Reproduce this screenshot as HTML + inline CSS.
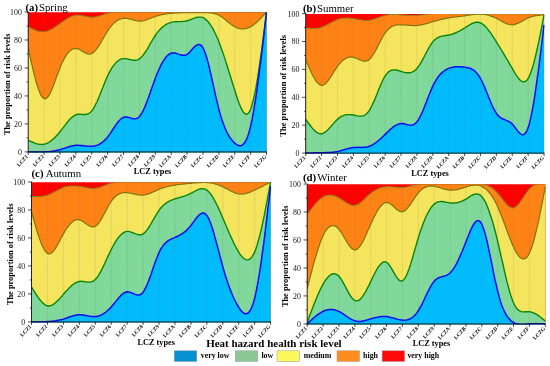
<!DOCTYPE html>
<html><head><meta charset="utf-8"><title>Heat hazard health risk level</title>
<style>
html,body{margin:0;padding:0;background:#fff;}
body{width:550px;height:366px;overflow:hidden;}
svg{display:block;font-family:"Liberation Serif","Times New Roman",serif;}
.b{font-weight:bold;}
</style></head><body>
<svg width="550" height="366" viewBox="0 0 550 366">
<rect x="0" y="0" width="550" height="366" fill="#ffffff"/>

<g id="panel-a">
<clipPath id="clipf-a"><rect x="28.20" y="12.35" width="238.35" height="140.05"/></clipPath>
<clipPath id="clip-a"><rect x="28.20" y="12.35" width="238.95" height="140.05"/></clipPath>
<g clip-path="url(#clipf-a)">
<rect x="27.20" y="11.00" width="240.35" height="142.90" fill="#ff0000"/>
<path d="M27.2,26.7 L28.2,26.7 L29.5,27.4 L30.8,28.1 L32.2,28.7 L33.5,29.3 L34.8,29.9 L36.1,30.4 L37.5,30.9 L38.8,31.3 L40.1,31.5 L41.4,31.7 L42.8,31.8 L44.1,31.7 L45.4,31.5 L46.7,31.2 L48.1,30.8 L49.4,30.3 L50.7,29.6 L52.0,28.9 L53.4,28.1 L54.7,27.3 L56.0,26.4 L57.3,25.5 L58.7,24.6 L60.0,23.6 L61.3,22.6 L62.6,21.7 L64.0,20.8 L65.3,19.9 L66.6,19.0 L67.9,18.2 L69.2,17.5 L70.6,16.8 L71.9,16.2 L73.2,15.8 L74.5,15.4 L75.9,15.2 L77.2,15.1 L78.5,15.2 L79.8,15.3 L81.2,15.5 L82.5,15.7 L83.8,16.0 L85.1,16.3 L86.5,16.6 L87.8,16.9 L89.1,17.1 L90.4,17.3 L91.8,17.3 L93.1,17.3 L94.4,17.1 L95.7,16.9 L97.1,16.6 L98.4,16.2 L99.7,15.8 L101.0,15.4 L102.4,14.9 L103.7,14.5 L105.0,14.0 L106.3,13.6 L107.7,13.3 L109.0,13.0 L110.3,12.7 L111.6,12.5 L112.9,12.3 L114.3,12.2 L115.6,12.1 L116.9,12.1 L118.2,12.0 L119.6,12.0 L120.9,12.0 L122.2,12.0 L123.5,12.0 L124.9,12.0 L126.2,12.0 L127.5,12.0 L128.8,12.0 L130.2,12.0 L131.5,12.0 L132.8,12.0 L134.1,12.0 L135.5,12.0 L136.8,12.0 L138.1,12.0 L139.4,12.0 L140.8,12.0 L142.1,12.0 L143.4,12.0 L144.7,12.0 L146.1,12.0 L147.4,12.0 L148.7,12.0 L150.0,12.0 L151.3,12.0 L152.7,12.0 L154.0,12.0 L155.3,12.0 L156.6,12.0 L158.0,12.0 L159.3,12.0 L160.6,12.0 L161.9,12.0 L163.3,12.0 L164.6,12.0 L165.9,12.0 L167.2,12.0 L168.6,12.0 L169.9,12.0 L171.2,12.0 L172.5,12.0 L173.9,12.0 L175.2,12.0 L176.5,12.0 L177.8,12.0 L179.2,12.0 L180.5,12.0 L181.8,12.0 L183.1,12.0 L184.5,12.0 L185.8,12.0 L187.1,12.0 L188.4,12.0 L189.7,12.0 L191.1,12.0 L192.4,12.0 L193.7,12.0 L195.0,12.0 L196.4,12.0 L197.7,12.0 L199.0,12.0 L200.3,12.0 L201.7,12.0 L203.0,12.0 L204.3,12.0 L205.6,12.0 L207.0,12.0 L208.3,12.0 L209.6,12.0 L210.9,12.0 L212.3,12.0 L213.6,12.0 L214.9,12.0 L216.2,12.0 L217.6,12.0 L218.9,12.0 L220.2,12.0 L221.5,12.0 L222.9,12.0 L224.2,12.0 L225.5,12.0 L226.8,12.0 L228.1,12.0 L229.5,12.0 L230.8,12.0 L232.1,12.0 L233.4,12.0 L234.8,12.0 L236.1,12.0 L237.4,12.0 L238.7,12.0 L240.1,12.0 L241.4,12.0 L242.7,12.0 L244.0,12.0 L245.4,12.0 L246.7,12.0 L248.0,12.0 L249.3,12.0 L250.7,12.0 L252.0,12.0 L253.3,12.0 L254.6,12.0 L256.0,12.0 L257.3,12.0 L258.6,12.0 L259.9,12.0 L261.3,12.0 L262.6,12.0 L263.9,12.0 L265.2,12.0 L266.6,12.0 L267.6,12.0 L267.6,153.9 L27.2,153.9 Z" fill="#ff8214" stroke="none"/>
<path d="M27.2,48.1 L28.2,48.1 L29.5,54.1 L30.8,60.1 L32.2,65.9 L33.5,71.5 L34.8,76.8 L36.1,81.7 L37.5,86.2 L38.8,90.1 L40.1,93.3 L41.4,95.9 L42.8,97.8 L44.1,98.7 L45.4,98.8 L46.7,98.1 L48.1,96.6 L49.4,94.6 L50.7,92.0 L52.0,89.0 L53.4,85.6 L54.7,82.1 L56.0,78.4 L57.3,74.7 L58.7,71.1 L60.0,67.7 L61.3,64.5 L62.6,61.7 L64.0,59.1 L65.3,56.8 L66.6,54.7 L67.9,53.0 L69.2,51.6 L70.6,50.4 L71.9,49.5 L73.2,48.9 L74.5,48.6 L75.9,48.5 L77.2,48.7 L78.5,49.2 L79.8,49.8 L81.2,50.5 L82.5,51.3 L83.8,52.1 L85.1,52.8 L86.5,53.4 L87.8,53.9 L89.1,54.1 L90.4,54.0 L91.8,53.6 L93.1,52.7 L94.4,51.6 L95.7,50.1 L97.1,48.4 L98.4,46.4 L99.7,44.3 L101.0,42.1 L102.4,39.8 L103.7,37.5 L105.0,35.2 L106.3,33.0 L107.7,30.9 L109.0,29.0 L110.3,27.2 L111.6,25.6 L112.9,24.1 L114.3,22.9 L115.6,21.7 L116.9,20.8 L118.2,20.0 L119.6,19.3 L120.9,18.8 L122.2,18.5 L123.5,18.3 L124.9,18.3 L126.2,18.3 L127.5,18.5 L128.8,18.8 L130.2,19.1 L131.5,19.5 L132.8,19.8 L134.1,20.2 L135.5,20.5 L136.8,20.8 L138.1,21.0 L139.4,21.1 L140.8,21.1 L142.1,20.9 L143.4,20.7 L144.7,20.4 L146.1,20.0 L147.4,19.5 L148.7,19.0 L150.0,18.5 L151.3,18.0 L152.7,17.5 L154.0,17.0 L155.3,16.5 L156.6,16.0 L158.0,15.6 L159.3,15.3 L160.6,14.9 L161.9,14.6 L163.3,14.3 L164.6,14.1 L165.9,13.9 L167.2,13.7 L168.6,13.5 L169.9,13.4 L171.2,13.3 L172.5,13.1 L173.9,13.1 L175.2,13.0 L176.5,12.9 L177.8,12.8 L179.2,12.8 L180.5,12.8 L181.8,12.7 L183.1,12.7 L184.5,12.7 L185.8,12.7 L187.1,12.7 L188.4,12.7 L189.7,12.7 L191.1,12.7 L192.4,12.7 L193.7,12.7 L195.0,12.7 L196.4,12.7 L197.7,12.7 L199.0,12.7 L200.3,12.7 L201.7,12.7 L203.0,12.7 L204.3,12.7 L205.6,12.7 L207.0,12.7 L208.3,12.7 L209.6,12.8 L210.9,12.9 L212.3,13.1 L213.6,13.3 L214.9,13.6 L216.2,14.1 L217.6,14.6 L218.9,15.2 L220.2,16.0 L221.5,16.8 L222.9,17.8 L224.2,18.8 L225.5,19.8 L226.8,20.9 L228.1,22.0 L229.5,23.0 L230.8,24.1 L232.1,25.0 L233.4,25.9 L234.8,26.7 L236.1,27.4 L237.4,27.9 L238.7,28.3 L240.1,28.6 L241.4,28.8 L242.7,28.9 L244.0,28.8 L245.4,28.6 L246.7,28.3 L248.0,27.9 L249.3,27.4 L250.7,26.7 L252.0,25.9 L253.3,25.0 L254.6,24.0 L256.0,22.9 L257.3,21.7 L258.6,20.5 L259.9,19.1 L261.3,17.8 L262.6,16.4 L263.9,14.9 L265.2,13.5 L266.6,12.0 L267.6,12.0 L267.6,153.9 L27.2,153.9 Z" fill="#f4e45e" stroke="none"/>
<path d="M27.2,140.1 L28.2,140.1 L29.5,140.8 L30.8,141.4 L32.2,142.0 L33.5,142.6 L34.8,143.1 L36.1,143.6 L37.5,143.9 L38.8,144.2 L40.1,144.4 L41.4,144.5 L42.8,144.4 L44.1,144.2 L45.4,143.9 L46.7,143.4 L48.1,142.7 L49.4,142.0 L50.7,141.1 L52.0,140.0 L53.4,138.9 L54.7,137.7 L56.0,136.3 L57.3,134.9 L58.7,133.4 L60.0,131.8 L61.3,130.1 L62.6,128.4 L64.0,126.6 L65.3,124.9 L66.6,123.2 L67.9,121.6 L69.2,120.0 L70.6,118.6 L71.9,117.4 L73.2,116.3 L74.5,115.4 L75.9,114.8 L77.2,114.5 L78.5,114.3 L79.8,114.3 L81.2,114.4 L82.5,114.5 L83.8,114.5 L85.1,114.5 L86.5,114.3 L87.8,114.0 L89.1,113.3 L90.4,112.3 L91.8,110.9 L93.1,109.1 L94.4,106.9 L95.7,104.3 L97.1,101.5 L98.4,98.4 L99.7,95.2 L101.0,91.9 L102.4,88.5 L103.7,85.2 L105.0,81.9 L106.3,78.7 L107.7,75.8 L109.0,73.1 L110.3,70.6 L111.6,68.4 L112.9,66.4 L114.3,64.6 L115.6,63.1 L116.9,61.8 L118.2,60.7 L119.6,59.9 L120.9,59.2 L122.2,58.8 L123.5,58.6 L124.9,58.6 L126.2,58.7 L127.5,58.9 L128.8,59.3 L130.2,59.6 L131.5,59.9 L132.8,60.2 L134.1,60.3 L135.5,60.3 L136.8,60.1 L138.1,59.6 L139.4,58.9 L140.8,57.8 L142.1,56.4 L143.4,54.8 L144.7,52.9 L146.1,50.9 L147.4,48.8 L148.7,46.5 L150.0,44.2 L151.3,42.0 L152.7,39.7 L154.0,37.5 L155.3,35.5 L156.6,33.6 L158.0,31.9 L159.3,30.3 L160.6,28.9 L161.9,27.6 L163.3,26.5 L164.6,25.5 L165.9,24.6 L167.2,23.9 L168.6,23.3 L169.9,22.7 L171.2,22.4 L172.5,22.1 L173.9,21.9 L175.2,21.7 L176.5,21.7 L177.8,21.6 L179.2,21.6 L180.5,21.6 L181.8,21.5 L183.1,21.4 L184.5,21.3 L185.8,21.1 L187.1,20.8 L188.4,20.4 L189.7,20.0 L191.1,19.4 L192.4,18.9 L193.7,18.4 L195.0,17.9 L196.4,17.5 L197.7,17.2 L199.0,17.1 L200.3,17.1 L201.7,17.3 L203.0,17.7 L204.3,18.4 L205.6,19.4 L207.0,20.6 L208.3,22.0 L209.6,23.7 L210.9,25.6 L212.3,27.7 L213.6,30.1 L214.9,32.7 L216.2,35.5 L217.6,38.6 L218.9,41.8 L220.2,45.2 L221.5,48.9 L222.9,52.7 L224.2,56.6 L225.5,60.6 L226.8,64.8 L228.1,69.0 L229.5,73.2 L230.8,77.5 L232.1,81.8 L233.4,86.1 L234.8,90.3 L236.1,94.5 L237.4,98.5 L238.7,102.3 L240.1,105.7 L241.4,108.7 L242.7,111.1 L244.0,112.9 L245.4,114.0 L246.7,114.3 L248.0,113.6 L249.3,112.0 L250.7,109.2 L252.0,105.3 L253.3,100.3 L254.6,94.3 L256.0,87.4 L257.3,79.7 L258.6,71.4 L259.9,62.4 L261.3,52.9 L262.6,43.0 L263.9,32.8 L265.2,22.5 L266.6,12.0 L267.6,12.0 L267.6,153.9 L27.2,153.9 Z" fill="#80d89a" stroke="none"/>
<path d="M27.2,151.9 L28.2,151.9 L29.5,151.9 L30.8,152.0 L32.2,152.0 L33.5,152.0 L34.8,152.0 L36.1,152.0 L37.5,152.0 L38.8,152.0 L40.1,152.0 L41.4,152.0 L42.8,151.9 L44.1,151.9 L45.4,151.8 L46.7,151.8 L48.1,151.7 L49.4,151.6 L50.7,151.4 L52.0,151.3 L53.4,151.1 L54.7,150.9 L56.0,150.6 L57.3,150.3 L58.7,150.0 L60.0,149.7 L61.3,149.3 L62.6,148.8 L64.0,148.4 L65.3,148.0 L66.6,147.5 L67.9,147.1 L69.2,146.7 L70.6,146.3 L71.9,146.0 L73.2,145.7 L74.5,145.5 L75.9,145.3 L77.2,145.3 L78.5,145.3 L79.8,145.4 L81.2,145.5 L82.5,145.6 L83.8,145.8 L85.1,146.0 L86.5,146.1 L87.8,146.2 L89.1,146.3 L90.4,146.3 L91.8,146.3 L93.1,146.2 L94.4,146.0 L95.7,145.6 L97.1,145.2 L98.4,144.7 L99.7,144.0 L101.0,143.2 L102.4,142.2 L103.7,141.2 L105.0,139.9 L106.3,138.5 L107.7,136.9 L109.0,135.2 L110.3,133.3 L111.6,131.3 L112.9,129.3 L114.3,127.3 L115.6,125.4 L116.9,123.5 L118.2,121.8 L119.6,120.3 L120.9,119.0 L122.2,118.0 L123.5,117.3 L124.9,117.0 L126.2,117.0 L127.5,117.2 L128.8,117.5 L130.2,117.9 L131.5,118.3 L132.8,118.7 L134.1,118.8 L135.5,118.8 L136.8,118.4 L138.1,117.7 L139.4,116.5 L140.8,114.8 L142.1,112.6 L143.4,110.1 L144.7,107.2 L146.1,103.9 L147.4,100.5 L148.7,96.9 L150.0,93.2 L151.3,89.4 L152.7,85.6 L154.0,81.9 L155.3,78.3 L156.6,74.9 L158.0,71.7 L159.3,68.7 L160.6,65.9 L161.9,63.4 L163.3,61.1 L164.6,59.1 L165.9,57.3 L167.2,55.8 L168.6,54.6 L169.9,53.7 L171.2,53.1 L172.5,52.9 L173.9,52.9 L175.2,53.1 L176.5,53.4 L177.8,53.9 L179.2,54.4 L180.5,54.8 L181.8,55.2 L183.1,55.3 L184.5,55.3 L185.8,55.0 L187.1,54.4 L188.4,53.4 L189.7,52.1 L191.1,50.6 L192.4,49.1 L193.7,47.6 L195.0,46.3 L196.4,45.3 L197.7,44.6 L199.0,44.4 L200.3,44.8 L201.7,45.9 L203.0,47.8 L204.3,50.6 L205.6,54.2 L207.0,58.6 L208.3,63.4 L209.6,68.8 L210.9,74.5 L212.3,80.4 L213.6,86.4 L214.9,92.4 L216.2,98.3 L217.6,103.9 L218.9,109.2 L220.2,114.1 L221.5,118.4 L222.9,122.4 L224.2,126.0 L225.5,129.1 L226.8,132.0 L228.1,134.5 L229.5,136.7 L230.8,138.6 L232.1,140.3 L233.4,141.8 L234.8,143.1 L236.1,144.2 L237.4,145.0 L238.7,145.6 L240.1,145.8 L241.4,145.5 L242.7,144.8 L244.0,143.5 L245.4,141.5 L246.7,138.9 L248.0,135.4 L249.3,131.2 L250.7,126.0 L252.0,119.9 L253.3,112.9 L254.6,105.1 L256.0,96.6 L257.3,87.4 L258.6,77.7 L259.9,67.5 L261.3,56.9 L262.6,45.9 L263.9,34.8 L265.2,23.4 L266.6,12.0 L267.6,12.0 L267.6,153.9 L27.2,153.9 Z" fill="#00bcff" stroke="none"/>
</g>
<g clip-path="url(#clip-a)">
<line x1="28.20" y1="12.00" x2="28.20" y2="151.90" stroke="#70704c" stroke-opacity="0.5" stroke-width="0.55" stroke-dasharray="0.9,1.0"/>
<line x1="44.09" y1="12.00" x2="44.09" y2="151.90" stroke="#70704c" stroke-opacity="0.5" stroke-width="0.55" stroke-dasharray="0.9,1.0"/>
<line x1="59.98" y1="12.00" x2="59.98" y2="151.90" stroke="#70704c" stroke-opacity="0.5" stroke-width="0.55" stroke-dasharray="0.9,1.0"/>
<line x1="75.87" y1="12.00" x2="75.87" y2="151.90" stroke="#70704c" stroke-opacity="0.5" stroke-width="0.55" stroke-dasharray="0.9,1.0"/>
<line x1="91.76" y1="12.00" x2="91.76" y2="151.90" stroke="#70704c" stroke-opacity="0.5" stroke-width="0.55" stroke-dasharray="0.9,1.0"/>
<line x1="107.65" y1="12.00" x2="107.65" y2="151.90" stroke="#70704c" stroke-opacity="0.5" stroke-width="0.55" stroke-dasharray="0.9,1.0"/>
<line x1="123.54" y1="12.00" x2="123.54" y2="151.90" stroke="#70704c" stroke-opacity="0.5" stroke-width="0.55" stroke-dasharray="0.9,1.0"/>
<line x1="139.43" y1="12.00" x2="139.43" y2="151.90" stroke="#70704c" stroke-opacity="0.5" stroke-width="0.55" stroke-dasharray="0.9,1.0"/>
<line x1="155.32" y1="12.00" x2="155.32" y2="151.90" stroke="#70704c" stroke-opacity="0.5" stroke-width="0.55" stroke-dasharray="0.9,1.0"/>
<line x1="171.21" y1="12.00" x2="171.21" y2="151.90" stroke="#70704c" stroke-opacity="0.5" stroke-width="0.55" stroke-dasharray="0.9,1.0"/>
<line x1="187.10" y1="12.00" x2="187.10" y2="151.90" stroke="#70704c" stroke-opacity="0.5" stroke-width="0.55" stroke-dasharray="0.9,1.0"/>
<line x1="202.99" y1="12.00" x2="202.99" y2="151.90" stroke="#70704c" stroke-opacity="0.5" stroke-width="0.55" stroke-dasharray="0.9,1.0"/>
<line x1="218.88" y1="12.00" x2="218.88" y2="151.90" stroke="#70704c" stroke-opacity="0.5" stroke-width="0.55" stroke-dasharray="0.9,1.0"/>
<line x1="234.77" y1="12.00" x2="234.77" y2="151.90" stroke="#70704c" stroke-opacity="0.5" stroke-width="0.55" stroke-dasharray="0.9,1.0"/>
<line x1="250.66" y1="12.00" x2="250.66" y2="151.90" stroke="#70704c" stroke-opacity="0.5" stroke-width="0.55" stroke-dasharray="0.9,1.0"/>
<line x1="266.55" y1="12.00" x2="266.55" y2="151.90" stroke="#70704c" stroke-opacity="0.5" stroke-width="0.55" stroke-dasharray="0.9,1.0"/>
<path d="M28.2,26.7 L29.5,27.4 L30.8,28.1 L32.2,28.7 L33.5,29.3 L34.8,29.9 L36.1,30.4 L37.5,30.9 L38.8,31.3 L40.1,31.5 L41.4,31.7 L42.8,31.8 L44.1,31.7 L45.4,31.5 L46.7,31.2 L48.1,30.8 L49.4,30.3 L50.7,29.6 L52.0,28.9 L53.4,28.1 L54.7,27.3 L56.0,26.4 L57.3,25.5 L58.7,24.6 L60.0,23.6 L61.3,22.6 L62.6,21.7 L64.0,20.8 L65.3,19.9 L66.6,19.0 L67.9,18.2 L69.2,17.5 L70.6,16.8 L71.9,16.2 L73.2,15.8 L74.5,15.4 L75.9,15.2 L77.2,15.1 L78.5,15.2 L79.8,15.3 L81.2,15.5 L82.5,15.7 L83.8,16.0 L85.1,16.3 L86.5,16.6 L87.8,16.9 L89.1,17.1 L90.4,17.3 L91.8,17.3 L93.1,17.3 L94.4,17.1 L95.7,16.9 L97.1,16.6 L98.4,16.2 L99.7,15.8 L101.0,15.4 L102.4,14.9 L103.7,14.5 L105.0,14.0 L106.3,13.6 L107.7,13.3 L109.0,13.0 L110.3,12.7 L111.6,12.5 L112.9,12.3 L114.3,12.2 L115.6,12.1 L116.9,12.1 L118.2,12.0 L119.6,12.0 L120.9,12.0 L122.2,12.0 L123.5,12.0 L124.9,12.0 L126.2,12.0 L127.5,12.0 L128.8,12.0 L130.2,12.0 L131.5,12.0 L132.8,12.0 L134.1,12.0 L135.5,12.0 L136.8,12.0 L138.1,12.0 L139.4,12.0 L140.8,12.0 L142.1,12.0 L143.4,12.0 L144.7,12.0 L146.1,12.0 L147.4,12.0 L148.7,12.0 L150.0,12.0 L151.3,12.0 L152.7,12.0 L154.0,12.0 L155.3,12.0 L156.6,12.0 L158.0,12.0 L159.3,12.0 L160.6,12.0 L161.9,12.0 L163.3,12.0 L164.6,12.0 L165.9,12.0 L167.2,12.0 L168.6,12.0 L169.9,12.0 L171.2,12.0 L172.5,12.0 L173.9,12.0 L175.2,12.0 L176.5,12.0 L177.8,12.0 L179.2,12.0 L180.5,12.0 L181.8,12.0 L183.1,12.0 L184.5,12.0 L185.8,12.0 L187.1,12.0 L188.4,12.0 L189.7,12.0 L191.1,12.0 L192.4,12.0 L193.7,12.0 L195.0,12.0 L196.4,12.0 L197.7,12.0 L199.0,12.0 L200.3,12.0 L201.7,12.0 L203.0,12.0 L204.3,12.0 L205.6,12.0 L207.0,12.0 L208.3,12.0 L209.6,12.0 L210.9,12.0 L212.3,12.0 L213.6,12.0 L214.9,12.0 L216.2,12.0 L217.6,12.0 L218.9,12.0 L220.2,12.0 L221.5,12.0 L222.9,12.0 L224.2,12.0 L225.5,12.0 L226.8,12.0 L228.1,12.0 L229.5,12.0 L230.8,12.0 L232.1,12.0 L233.4,12.0 L234.8,12.0 L236.1,12.0 L237.4,12.0 L238.7,12.0 L240.1,12.0 L241.4,12.0 L242.7,12.0 L244.0,12.0 L245.4,12.0 L246.7,12.0 L248.0,12.0 L249.3,12.0 L250.7,12.0 L252.0,12.0 L253.3,12.0 L254.6,12.0 L256.0,12.0 L257.3,12.0 L258.6,12.0 L259.9,12.0 L261.3,12.0 L262.6,12.0 L263.9,12.0 L265.2,12.0 L266.6,12.0" fill="none" stroke="#94801a" stroke-width="1.05" stroke-linejoin="round"/>
<path d="M28.2,48.1 L29.5,54.1 L30.8,60.1 L32.2,65.9 L33.5,71.5 L34.8,76.8 L36.1,81.7 L37.5,86.2 L38.8,90.1 L40.1,93.3 L41.4,95.9 L42.8,97.8 L44.1,98.7 L45.4,98.8 L46.7,98.1 L48.1,96.6 L49.4,94.6 L50.7,92.0 L52.0,89.0 L53.4,85.6 L54.7,82.1 L56.0,78.4 L57.3,74.7 L58.7,71.1 L60.0,67.7 L61.3,64.5 L62.6,61.7 L64.0,59.1 L65.3,56.8 L66.6,54.7 L67.9,53.0 L69.2,51.6 L70.6,50.4 L71.9,49.5 L73.2,48.9 L74.5,48.6 L75.9,48.5 L77.2,48.7 L78.5,49.2 L79.8,49.8 L81.2,50.5 L82.5,51.3 L83.8,52.1 L85.1,52.8 L86.5,53.4 L87.8,53.9 L89.1,54.1 L90.4,54.0 L91.8,53.6 L93.1,52.7 L94.4,51.6 L95.7,50.1 L97.1,48.4 L98.4,46.4 L99.7,44.3 L101.0,42.1 L102.4,39.8 L103.7,37.5 L105.0,35.2 L106.3,33.0 L107.7,30.9 L109.0,29.0 L110.3,27.2 L111.6,25.6 L112.9,24.1 L114.3,22.9 L115.6,21.7 L116.9,20.8 L118.2,20.0 L119.6,19.3 L120.9,18.8 L122.2,18.5 L123.5,18.3 L124.9,18.3 L126.2,18.3 L127.5,18.5 L128.8,18.8 L130.2,19.1 L131.5,19.5 L132.8,19.8 L134.1,20.2 L135.5,20.5 L136.8,20.8 L138.1,21.0 L139.4,21.1 L140.8,21.1 L142.1,20.9 L143.4,20.7 L144.7,20.4 L146.1,20.0 L147.4,19.5 L148.7,19.0 L150.0,18.5 L151.3,18.0 L152.7,17.5 L154.0,17.0 L155.3,16.5 L156.6,16.0 L158.0,15.6 L159.3,15.3 L160.6,14.9 L161.9,14.6 L163.3,14.3 L164.6,14.1 L165.9,13.9 L167.2,13.7 L168.6,13.5 L169.9,13.4 L171.2,13.3 L172.5,13.1 L173.9,13.1 L175.2,13.0 L176.5,12.9 L177.8,12.8 L179.2,12.8 L180.5,12.8 L181.8,12.7 L183.1,12.7 L184.5,12.7 L185.8,12.7 L187.1,12.7 L188.4,12.7 L189.7,12.7 L191.1,12.7 L192.4,12.7 L193.7,12.7 L195.0,12.7 L196.4,12.7 L197.7,12.7 L199.0,12.7 L200.3,12.7 L201.7,12.7 L203.0,12.7 L204.3,12.7 L205.6,12.7 L207.0,12.7 L208.3,12.7 L209.6,12.8 L210.9,12.9 L212.3,13.1 L213.6,13.3 L214.9,13.6 L216.2,14.1 L217.6,14.6 L218.9,15.2 L220.2,16.0 L221.5,16.8 L222.9,17.8 L224.2,18.8 L225.5,19.8 L226.8,20.9 L228.1,22.0 L229.5,23.0 L230.8,24.1 L232.1,25.0 L233.4,25.9 L234.8,26.7 L236.1,27.4 L237.4,27.9 L238.7,28.3 L240.1,28.6 L241.4,28.8 L242.7,28.9 L244.0,28.8 L245.4,28.6 L246.7,28.3 L248.0,27.9 L249.3,27.4 L250.7,26.7 L252.0,25.9 L253.3,25.0 L254.6,24.0 L256.0,22.9 L257.3,21.7 L258.6,20.5 L259.9,19.1 L261.3,17.8 L262.6,16.4 L263.9,14.9 L265.2,13.5 L266.6,12.0" fill="none" stroke="#84740e" stroke-width="1.25" stroke-linejoin="round"/>
<path d="M28.2,140.1 L29.5,140.8 L30.8,141.4 L32.2,142.0 L33.5,142.6 L34.8,143.1 L36.1,143.6 L37.5,143.9 L38.8,144.2 L40.1,144.4 L41.4,144.5 L42.8,144.4 L44.1,144.2 L45.4,143.9 L46.7,143.4 L48.1,142.7 L49.4,142.0 L50.7,141.1 L52.0,140.0 L53.4,138.9 L54.7,137.7 L56.0,136.3 L57.3,134.9 L58.7,133.4 L60.0,131.8 L61.3,130.1 L62.6,128.4 L64.0,126.6 L65.3,124.9 L66.6,123.2 L67.9,121.6 L69.2,120.0 L70.6,118.6 L71.9,117.4 L73.2,116.3 L74.5,115.4 L75.9,114.8 L77.2,114.5 L78.5,114.3 L79.8,114.3 L81.2,114.4 L82.5,114.5 L83.8,114.5 L85.1,114.5 L86.5,114.3 L87.8,114.0 L89.1,113.3 L90.4,112.3 L91.8,110.9 L93.1,109.1 L94.4,106.9 L95.7,104.3 L97.1,101.5 L98.4,98.4 L99.7,95.2 L101.0,91.9 L102.4,88.5 L103.7,85.2 L105.0,81.9 L106.3,78.7 L107.7,75.8 L109.0,73.1 L110.3,70.6 L111.6,68.4 L112.9,66.4 L114.3,64.6 L115.6,63.1 L116.9,61.8 L118.2,60.7 L119.6,59.9 L120.9,59.2 L122.2,58.8 L123.5,58.6 L124.9,58.6 L126.2,58.7 L127.5,58.9 L128.8,59.3 L130.2,59.6 L131.5,59.9 L132.8,60.2 L134.1,60.3 L135.5,60.3 L136.8,60.1 L138.1,59.6 L139.4,58.9 L140.8,57.8 L142.1,56.4 L143.4,54.8 L144.7,52.9 L146.1,50.9 L147.4,48.8 L148.7,46.5 L150.0,44.2 L151.3,42.0 L152.7,39.7 L154.0,37.5 L155.3,35.5 L156.6,33.6 L158.0,31.9 L159.3,30.3 L160.6,28.9 L161.9,27.6 L163.3,26.5 L164.6,25.5 L165.9,24.6 L167.2,23.9 L168.6,23.3 L169.9,22.7 L171.2,22.4 L172.5,22.1 L173.9,21.9 L175.2,21.7 L176.5,21.7 L177.8,21.6 L179.2,21.6 L180.5,21.6 L181.8,21.5 L183.1,21.4 L184.5,21.3 L185.8,21.1 L187.1,20.8 L188.4,20.4 L189.7,20.0 L191.1,19.4 L192.4,18.9 L193.7,18.4 L195.0,17.9 L196.4,17.5 L197.7,17.2 L199.0,17.1 L200.3,17.1 L201.7,17.3 L203.0,17.7 L204.3,18.4 L205.6,19.4 L207.0,20.6 L208.3,22.0 L209.6,23.7 L210.9,25.6 L212.3,27.7 L213.6,30.1 L214.9,32.7 L216.2,35.5 L217.6,38.6 L218.9,41.8 L220.2,45.2 L221.5,48.9 L222.9,52.7 L224.2,56.6 L225.5,60.6 L226.8,64.8 L228.1,69.0 L229.5,73.2 L230.8,77.5 L232.1,81.8 L233.4,86.1 L234.8,90.3 L236.1,94.5 L237.4,98.5 L238.7,102.3 L240.1,105.7 L241.4,108.7 L242.7,111.1 L244.0,112.9 L245.4,114.0 L246.7,114.3 L248.0,113.6 L249.3,112.0 L250.7,109.2 L252.0,105.3 L253.3,100.3 L254.6,94.3 L256.0,87.4 L257.3,79.7 L258.6,71.4 L259.9,62.4 L261.3,52.9 L262.6,43.0 L263.9,32.8 L265.2,22.5 L266.6,12.0" fill="none" stroke="#0a860a" stroke-width="1.4" stroke-linejoin="round"/>
<path d="M28.2,151.9 L29.5,151.9 L30.8,152.0 L32.2,152.0 L33.5,152.0 L34.8,152.0 L36.1,152.0 L37.5,152.0 L38.8,152.0 L40.1,152.0 L41.4,152.0 L42.8,151.9 L44.1,151.9 L45.4,151.8 L46.7,151.8 L48.1,151.7 L49.4,151.6 L50.7,151.4 L52.0,151.3 L53.4,151.1 L54.7,150.9 L56.0,150.6 L57.3,150.3 L58.7,150.0 L60.0,149.7 L61.3,149.3 L62.6,148.8 L64.0,148.4 L65.3,148.0 L66.6,147.5 L67.9,147.1 L69.2,146.7 L70.6,146.3 L71.9,146.0 L73.2,145.7 L74.5,145.5 L75.9,145.3 L77.2,145.3 L78.5,145.3 L79.8,145.4 L81.2,145.5 L82.5,145.6 L83.8,145.8 L85.1,146.0 L86.5,146.1 L87.8,146.2 L89.1,146.3 L90.4,146.3 L91.8,146.3 L93.1,146.2 L94.4,146.0 L95.7,145.6 L97.1,145.2 L98.4,144.7 L99.7,144.0 L101.0,143.2 L102.4,142.2 L103.7,141.2 L105.0,139.9 L106.3,138.5 L107.7,136.9 L109.0,135.2 L110.3,133.3 L111.6,131.3 L112.9,129.3 L114.3,127.3 L115.6,125.4 L116.9,123.5 L118.2,121.8 L119.6,120.3 L120.9,119.0 L122.2,118.0 L123.5,117.3 L124.9,117.0 L126.2,117.0 L127.5,117.2 L128.8,117.5 L130.2,117.9 L131.5,118.3 L132.8,118.7 L134.1,118.8 L135.5,118.8 L136.8,118.4 L138.1,117.7 L139.4,116.5 L140.8,114.8 L142.1,112.6 L143.4,110.1 L144.7,107.2 L146.1,103.9 L147.4,100.5 L148.7,96.9 L150.0,93.2 L151.3,89.4 L152.7,85.6 L154.0,81.9 L155.3,78.3 L156.6,74.9 L158.0,71.7 L159.3,68.7 L160.6,65.9 L161.9,63.4 L163.3,61.1 L164.6,59.1 L165.9,57.3 L167.2,55.8 L168.6,54.6 L169.9,53.7 L171.2,53.1 L172.5,52.9 L173.9,52.9 L175.2,53.1 L176.5,53.4 L177.8,53.9 L179.2,54.4 L180.5,54.8 L181.8,55.2 L183.1,55.3 L184.5,55.3 L185.8,55.0 L187.1,54.4 L188.4,53.4 L189.7,52.1 L191.1,50.6 L192.4,49.1 L193.7,47.6 L195.0,46.3 L196.4,45.3 L197.7,44.6 L199.0,44.4 L200.3,44.8 L201.7,45.9 L203.0,47.8 L204.3,50.6 L205.6,54.2 L207.0,58.6 L208.3,63.4 L209.6,68.8 L210.9,74.5 L212.3,80.4 L213.6,86.4 L214.9,92.4 L216.2,98.3 L217.6,103.9 L218.9,109.2 L220.2,114.1 L221.5,118.4 L222.9,122.4 L224.2,126.0 L225.5,129.1 L226.8,132.0 L228.1,134.5 L229.5,136.7 L230.8,138.6 L232.1,140.3 L233.4,141.8 L234.8,143.1 L236.1,144.2 L237.4,145.0 L238.7,145.6 L240.1,145.8 L241.4,145.5 L242.7,144.8 L244.0,143.5 L245.4,141.5 L246.7,138.9 L248.0,135.4 L249.3,131.2 L250.7,126.0 L252.0,119.9 L253.3,112.9 L254.6,105.1 L256.0,96.6 L257.3,87.4 L258.6,77.7 L259.9,67.5 L261.3,56.9 L262.6,45.9 L263.9,34.8 L265.2,23.4 L266.6,12.0" fill="none" stroke="#0a0af5" stroke-width="1.5" stroke-linejoin="round"/>
</g>
<line x1="28.20" y1="11.60" x2="28.20" y2="152.30" stroke="#000" stroke-width="0.8"/>
<line x1="27.80" y1="151.90" x2="266.95" y2="151.90" stroke="#000" stroke-width="0.8"/>
<line x1="24.60" y1="151.90" x2="28.20" y2="151.90" stroke="#000" stroke-width="0.7"/>
<text font-size="8.6" text-anchor="end" fill="#151515" transform="translate(21.90,154.80) scale(0.92,1)">0</text>
<line x1="26.60" y1="137.91" x2="28.20" y2="137.91" stroke="#000" stroke-width="0.7"/>
<line x1="24.60" y1="123.92" x2="28.20" y2="123.92" stroke="#000" stroke-width="0.7"/>
<text font-size="8.6" text-anchor="end" fill="#151515" transform="translate(21.90,126.82) scale(0.92,1)">20</text>
<line x1="26.60" y1="109.93" x2="28.20" y2="109.93" stroke="#000" stroke-width="0.7"/>
<line x1="24.60" y1="95.94" x2="28.20" y2="95.94" stroke="#000" stroke-width="0.7"/>
<text font-size="8.6" text-anchor="end" fill="#151515" transform="translate(21.90,98.84) scale(0.92,1)">40</text>
<line x1="26.60" y1="81.95" x2="28.20" y2="81.95" stroke="#000" stroke-width="0.7"/>
<line x1="24.60" y1="67.96" x2="28.20" y2="67.96" stroke="#000" stroke-width="0.7"/>
<text font-size="8.6" text-anchor="end" fill="#151515" transform="translate(21.90,70.86) scale(0.92,1)">60</text>
<line x1="26.60" y1="53.97" x2="28.20" y2="53.97" stroke="#000" stroke-width="0.7"/>
<line x1="24.60" y1="39.98" x2="28.20" y2="39.98" stroke="#000" stroke-width="0.7"/>
<text font-size="8.6" text-anchor="end" fill="#151515" transform="translate(21.90,42.88) scale(0.92,1)">80</text>
<line x1="26.60" y1="25.99" x2="28.20" y2="25.99" stroke="#000" stroke-width="0.7"/>
<line x1="24.60" y1="12.00" x2="28.20" y2="12.00" stroke="#000" stroke-width="0.7"/>
<text font-size="8.6" text-anchor="end" fill="#151515" transform="translate(21.90,14.90) scale(0.92,1)">100</text>
<line x1="28.20" y1="151.90" x2="28.20" y2="154.90" stroke="#000" stroke-width="0.7"/>
<text class="b" font-size="5.4" text-anchor="end" transform="translate(28.40,156.90) rotate(-47) scale(1.0,1)">LCZ1</text>
<line x1="44.09" y1="151.90" x2="44.09" y2="154.90" stroke="#000" stroke-width="0.7"/>
<text class="b" font-size="5.4" text-anchor="end" transform="translate(44.29,156.90) rotate(-47) scale(1.0,1)">LCZ2</text>
<line x1="59.98" y1="151.90" x2="59.98" y2="154.90" stroke="#000" stroke-width="0.7"/>
<text class="b" font-size="5.4" text-anchor="end" transform="translate(60.18,156.90) rotate(-47) scale(1.0,1)">LCZ3</text>
<line x1="75.87" y1="151.90" x2="75.87" y2="154.90" stroke="#000" stroke-width="0.7"/>
<text class="b" font-size="5.4" text-anchor="end" transform="translate(76.07,156.90) rotate(-47) scale(1.0,1)">LCZ4</text>
<line x1="91.76" y1="151.90" x2="91.76" y2="154.90" stroke="#000" stroke-width="0.7"/>
<text class="b" font-size="5.4" text-anchor="end" transform="translate(91.96,156.90) rotate(-47) scale(1.0,1)">LCZ5</text>
<line x1="107.65" y1="151.90" x2="107.65" y2="154.90" stroke="#000" stroke-width="0.7"/>
<text class="b" font-size="5.4" text-anchor="end" transform="translate(107.85,156.90) rotate(-47) scale(1.0,1)">LCZ6</text>
<line x1="123.54" y1="151.90" x2="123.54" y2="154.90" stroke="#000" stroke-width="0.7"/>
<text class="b" font-size="5.4" text-anchor="end" transform="translate(123.74,156.90) rotate(-47) scale(1.0,1)">LCZ7</text>
<line x1="139.43" y1="151.90" x2="139.43" y2="154.90" stroke="#000" stroke-width="0.7"/>
<text class="b" font-size="5.4" text-anchor="end" transform="translate(139.63,156.90) rotate(-47) scale(1.0,1)">LCZ8</text>
<line x1="155.32" y1="151.90" x2="155.32" y2="154.90" stroke="#000" stroke-width="0.7"/>
<text class="b" font-size="5.4" text-anchor="end" transform="translate(155.52,156.90) rotate(-47) scale(1.0,1)">LCZ9</text>
<line x1="171.21" y1="151.90" x2="171.21" y2="154.90" stroke="#000" stroke-width="0.7"/>
<text class="b" font-size="5.4" text-anchor="end" transform="translate(171.41,156.90) rotate(-47) scale(1.0,1)">LCZA</text>
<line x1="187.10" y1="151.90" x2="187.10" y2="154.90" stroke="#000" stroke-width="0.7"/>
<text class="b" font-size="5.4" text-anchor="end" transform="translate(187.30,156.90) rotate(-47) scale(1.0,1)">LCZB</text>
<line x1="202.99" y1="151.90" x2="202.99" y2="154.90" stroke="#000" stroke-width="0.7"/>
<text class="b" font-size="5.4" text-anchor="end" transform="translate(203.19,156.90) rotate(-47) scale(1.0,1)">LCZC</text>
<line x1="218.88" y1="151.90" x2="218.88" y2="154.90" stroke="#000" stroke-width="0.7"/>
<text class="b" font-size="5.4" text-anchor="end" transform="translate(219.08,156.90) rotate(-47) scale(1.0,1)">LCZD</text>
<line x1="234.77" y1="151.90" x2="234.77" y2="154.90" stroke="#000" stroke-width="0.7"/>
<text class="b" font-size="5.4" text-anchor="end" transform="translate(234.97,156.90) rotate(-47) scale(1.0,1)">LCZE</text>
<line x1="250.66" y1="151.90" x2="250.66" y2="154.90" stroke="#000" stroke-width="0.7"/>
<text class="b" font-size="5.4" text-anchor="end" transform="translate(250.86,156.90) rotate(-47) scale(1.0,1)">LCZF</text>
<line x1="266.55" y1="151.90" x2="266.55" y2="154.90" stroke="#000" stroke-width="0.7"/>
<text class="b" font-size="5.4" text-anchor="end" transform="translate(266.75,156.90) rotate(-47) scale(1.0,1)">LCZG</text>
<text class="b" font-size="8.4" text-anchor="middle" textLength="101.5" lengthAdjust="spacingAndGlyphs" transform="translate(9.60,84.35) rotate(-90)">The proportion of risk levels</text>
<text class="b" font-size="8.3" text-anchor="middle" x="152.57" y="174.30">LCZ types</text>
<text font-size="10.8" x="25.40" y="10.80"><tspan class="b">(a)</tspan><tspan dx="0.9">Spring</tspan></text>
</g>
<g id="panel-b">
<clipPath id="clipf-b"><rect x="305.70" y="13.95" width="238.35" height="139.65"/></clipPath>
<clipPath id="clip-b"><rect x="305.70" y="13.95" width="238.95" height="139.65"/></clipPath>
<g clip-path="url(#clipf-b)">
<rect x="304.70" y="12.60" width="240.35" height="142.50" fill="#ff0000"/>
<path d="M304.7,28.0 L305.7,28.0 L307.0,28.1 L308.3,28.2 L309.7,28.3 L311.0,28.4 L312.3,28.5 L313.6,28.5 L315.0,28.4 L316.3,28.3 L317.6,28.2 L318.9,28.0 L320.3,27.7 L321.6,27.3 L322.9,26.8 L324.2,26.2 L325.6,25.6 L326.9,24.9 L328.2,24.2 L329.5,23.5 L330.9,22.8 L332.2,22.1 L333.5,21.4 L334.8,20.7 L336.2,20.1 L337.5,19.6 L338.8,19.2 L340.1,18.8 L341.5,18.5 L342.8,18.3 L344.1,18.2 L345.4,18.1 L346.7,18.0 L348.1,18.1 L349.4,18.2 L350.7,18.3 L352.0,18.4 L353.4,18.6 L354.7,18.8 L356.0,19.1 L357.3,19.3 L358.7,19.6 L360.0,19.8 L361.3,20.0 L362.6,20.2 L364.0,20.4 L365.3,20.4 L366.6,20.5 L367.9,20.4 L369.3,20.3 L370.6,20.1 L371.9,19.8 L373.2,19.4 L374.6,19.0 L375.9,18.6 L377.2,18.1 L378.5,17.6 L379.9,17.1 L381.2,16.6 L382.5,16.2 L383.8,15.8 L385.1,15.4 L386.5,15.1 L387.8,14.9 L389.1,14.7 L390.4,14.6 L391.8,14.5 L393.1,14.5 L394.4,14.5 L395.7,14.5 L397.1,14.6 L398.4,14.7 L399.7,14.8 L401.0,14.9 L402.4,15.0 L403.7,15.1 L405.0,15.2 L406.3,15.2 L407.7,15.3 L409.0,15.4 L410.3,15.5 L411.6,15.5 L413.0,15.5 L414.3,15.5 L415.6,15.5 L416.9,15.4 L418.3,15.3 L419.6,15.2 L420.9,15.1 L422.2,14.9 L423.6,14.7 L424.9,14.5 L426.2,14.4 L427.5,14.2 L428.8,14.0 L430.2,13.9 L431.5,13.7 L432.8,13.6 L434.1,13.5 L435.5,13.5 L436.8,13.4 L438.1,13.4 L439.4,13.4 L440.8,13.4 L442.1,13.4 L443.4,13.5 L444.7,13.5 L446.1,13.5 L447.4,13.6 L448.7,13.6 L450.0,13.6 L451.4,13.6 L452.7,13.6 L454.0,13.7 L455.3,13.7 L456.7,13.7 L458.0,13.6 L459.3,13.6 L460.6,13.6 L462.0,13.6 L463.3,13.6 L464.6,13.6 L465.9,13.6 L467.2,13.6 L468.6,13.6 L469.9,13.6 L471.2,13.6 L472.5,13.6 L473.9,13.6 L475.2,13.6 L476.5,13.6 L477.8,13.6 L479.2,13.6 L480.5,13.6 L481.8,13.6 L483.1,13.6 L484.5,13.6 L485.8,13.6 L487.1,13.6 L488.4,13.6 L489.8,13.6 L491.1,13.6 L492.4,13.6 L493.7,13.6 L495.1,13.6 L496.4,13.6 L497.7,13.6 L499.0,13.6 L500.4,13.6 L501.7,13.6 L503.0,13.6 L504.3,13.6 L505.6,13.6 L507.0,13.6 L508.3,13.6 L509.6,13.6 L510.9,13.6 L512.3,13.6 L513.6,13.6 L514.9,13.6 L516.2,13.6 L517.6,13.6 L518.9,13.6 L520.2,13.6 L521.5,13.6 L522.9,13.6 L524.2,13.6 L525.5,13.6 L526.8,13.6 L528.2,13.6 L529.5,13.6 L530.8,13.6 L532.1,13.6 L533.5,13.6 L534.8,13.6 L536.1,13.6 L537.4,13.6 L538.8,13.6 L540.1,13.6 L541.4,13.6 L542.7,13.6 L544.0,13.6 L545.0,13.6 L545.0,155.1 L304.7,155.1 Z" fill="#ff8214" stroke="none"/>
<path d="M304.7,59.5 L305.7,59.5 L307.0,62.7 L308.3,65.8 L309.7,68.8 L311.0,71.7 L312.3,74.5 L313.6,77.0 L315.0,79.3 L316.3,81.3 L317.6,82.9 L318.9,84.1 L320.3,85.0 L321.6,85.3 L322.9,85.2 L324.2,84.5 L325.6,83.5 L326.9,82.2 L328.2,80.6 L329.5,78.7 L330.9,76.7 L332.2,74.6 L333.5,72.5 L334.8,70.3 L336.2,68.3 L337.5,66.3 L338.8,64.6 L340.1,63.0 L341.5,61.6 L342.8,60.4 L344.1,59.4 L345.4,58.5 L346.7,57.9 L348.1,57.4 L349.4,57.1 L350.7,57.0 L352.0,57.0 L353.4,57.3 L354.7,57.7 L356.0,58.2 L357.3,58.8 L358.7,59.4 L360.0,60.0 L361.3,60.5 L362.6,61.0 L364.0,61.2 L365.3,61.2 L366.6,61.0 L367.9,60.4 L369.3,59.5 L370.6,58.2 L371.9,56.5 L373.2,54.5 L374.6,52.3 L375.9,49.9 L377.2,47.4 L378.5,44.8 L379.9,42.2 L381.2,39.7 L382.5,37.3 L383.8,35.0 L385.1,33.0 L386.5,31.2 L387.8,29.7 L389.1,28.5 L390.4,27.5 L391.8,26.6 L393.1,26.0 L394.4,25.5 L395.7,25.2 L397.1,24.9 L398.4,24.8 L399.7,24.8 L401.0,24.8 L402.4,24.8 L403.7,24.9 L405.0,25.0 L406.3,25.1 L407.7,25.2 L409.0,25.3 L410.3,25.4 L411.6,25.5 L413.0,25.5 L414.3,25.6 L415.6,25.5 L416.9,25.5 L418.3,25.3 L419.6,25.1 L420.9,24.9 L422.2,24.6 L423.6,24.3 L424.9,24.0 L426.2,23.6 L427.5,23.3 L428.8,22.9 L430.2,22.5 L431.5,22.1 L432.8,21.7 L434.1,21.3 L435.5,20.9 L436.8,20.6 L438.1,20.2 L439.4,19.9 L440.8,19.6 L442.1,19.2 L443.4,18.9 L444.7,18.7 L446.1,18.4 L447.4,18.2 L448.7,17.9 L450.0,17.7 L451.4,17.5 L452.7,17.3 L454.0,17.2 L455.3,17.0 L456.7,16.8 L458.0,16.7 L459.3,16.5 L460.6,16.4 L462.0,16.2 L463.3,16.0 L464.6,15.8 L465.9,15.6 L467.2,15.4 L468.6,15.2 L469.9,15.0 L471.2,14.8 L472.5,14.7 L473.9,14.5 L475.2,14.4 L476.5,14.2 L477.8,14.2 L479.2,14.1 L480.5,14.2 L481.8,14.2 L483.1,14.3 L484.5,14.5 L485.8,14.7 L487.1,15.0 L488.4,15.3 L489.8,15.7 L491.1,16.1 L492.4,16.6 L493.7,17.1 L495.1,17.7 L496.4,18.3 L497.7,19.0 L499.0,19.8 L500.4,20.5 L501.7,21.2 L503.0,21.9 L504.3,22.6 L505.6,23.2 L507.0,23.8 L508.3,24.2 L509.6,24.5 L510.9,24.7 L512.3,24.8 L513.6,24.6 L514.9,24.4 L516.2,23.9 L517.6,23.4 L518.9,22.8 L520.2,22.2 L521.5,21.4 L522.9,20.7 L524.2,20.0 L525.5,19.2 L526.8,18.5 L528.2,17.9 L529.5,17.4 L530.8,16.9 L532.1,16.5 L533.5,16.2 L534.8,15.9 L536.1,15.6 L537.4,15.5 L538.8,15.3 L540.1,15.2 L541.4,15.0 L542.7,14.9 L544.0,14.9 L545.0,14.9 L545.0,155.1 L304.7,155.1 Z" fill="#f4e45e" stroke="none"/>
<path d="M304.7,119.2 L305.7,119.2 L307.0,121.1 L308.3,123.0 L309.7,124.8 L311.0,126.5 L312.3,128.1 L313.6,129.6 L315.0,130.9 L316.3,132.0 L317.6,132.8 L318.9,133.4 L320.3,133.7 L321.6,133.7 L322.9,133.4 L324.2,132.7 L325.6,131.8 L326.9,130.7 L328.2,129.4 L329.5,128.0 L330.9,126.5 L332.2,124.9 L333.5,123.4 L334.8,121.9 L336.2,120.5 L337.5,119.2 L338.8,118.1 L340.1,117.2 L341.5,116.4 L342.8,115.8 L344.1,115.3 L345.4,114.9 L346.7,114.7 L348.1,114.6 L349.4,114.6 L350.7,114.6 L352.0,114.8 L353.4,115.0 L354.7,115.3 L356.0,115.6 L357.3,115.9 L358.7,116.1 L360.0,116.2 L361.3,116.1 L362.6,115.9 L364.0,115.5 L365.3,114.8 L366.6,113.7 L367.9,112.3 L369.3,110.6 L370.6,108.4 L371.9,105.8 L373.2,102.9 L374.6,99.9 L375.9,96.7 L377.2,93.4 L378.5,90.1 L379.9,86.8 L381.2,83.7 L382.5,80.8 L383.8,78.2 L385.1,76.0 L386.5,74.1 L387.8,72.6 L389.1,71.5 L390.4,70.7 L391.8,70.2 L393.1,69.9 L394.4,69.9 L395.7,70.0 L397.1,70.2 L398.4,70.5 L399.7,70.9 L401.0,71.4 L402.4,71.8 L403.7,72.2 L405.0,72.5 L406.3,72.7 L407.7,72.8 L409.0,72.8 L410.3,72.7 L411.6,72.3 L413.0,71.7 L414.3,70.9 L415.6,69.8 L416.9,68.4 L418.3,66.7 L419.6,64.8 L420.9,62.6 L422.2,60.3 L423.6,57.8 L424.9,55.3 L426.2,52.8 L427.5,50.3 L428.8,48.0 L430.2,45.7 L431.5,43.7 L432.8,41.9 L434.1,40.4 L435.5,39.2 L436.8,38.2 L438.1,37.5 L439.4,36.9 L440.8,36.4 L442.1,36.1 L443.4,35.9 L444.7,35.7 L446.1,35.5 L447.4,35.3 L448.7,35.1 L450.0,34.8 L451.4,34.4 L452.7,34.0 L454.0,33.5 L455.3,33.0 L456.7,32.4 L458.0,31.7 L459.3,31.1 L460.6,30.3 L462.0,29.6 L463.3,28.8 L464.6,28.0 L465.9,27.1 L467.2,26.3 L468.6,25.5 L469.9,24.7 L471.2,24.0 L472.5,23.4 L473.9,22.9 L475.2,22.5 L476.5,22.3 L477.8,22.3 L479.2,22.5 L480.5,22.9 L481.8,23.6 L483.1,24.5 L484.5,25.6 L485.8,26.9 L487.1,28.4 L488.4,30.1 L489.8,31.8 L491.1,33.7 L492.4,35.7 L493.7,37.7 L495.1,39.8 L496.4,41.9 L497.7,44.1 L499.0,46.2 L500.4,48.4 L501.7,50.5 L503.0,52.7 L504.3,54.9 L505.6,57.1 L507.0,59.3 L508.3,61.6 L509.6,63.9 L510.9,66.1 L512.3,68.4 L513.6,70.7 L514.9,73.0 L516.2,75.1 L517.6,77.1 L518.9,78.8 L520.2,80.2 L521.5,81.2 L522.9,81.8 L524.2,81.9 L525.5,81.4 L526.8,80.3 L528.2,78.5 L529.5,75.9 L530.8,72.6 L532.1,68.7 L533.5,64.2 L534.8,59.1 L536.1,53.7 L537.4,47.8 L538.8,41.6 L540.1,35.2 L541.4,28.6 L542.7,21.8 L544.0,15.0 L545.0,15.0 L545.0,155.1 L304.7,155.1 Z" fill="#80d89a" stroke="none"/>
<path d="M304.7,153.1 L305.7,153.1 L307.0,153.1 L308.3,153.0 L309.7,153.0 L311.0,152.9 L312.3,152.9 L313.6,152.8 L315.0,152.8 L316.3,152.8 L317.6,152.7 L318.9,152.7 L320.3,152.7 L321.6,152.7 L322.9,152.7 L324.2,152.7 L325.6,152.6 L326.9,152.6 L328.2,152.6 L329.5,152.5 L330.9,152.4 L332.2,152.3 L333.5,152.2 L334.8,152.0 L336.2,151.8 L337.5,151.6 L338.8,151.3 L340.1,150.9 L341.5,150.5 L342.8,150.1 L344.1,149.7 L345.4,149.3 L346.7,148.9 L348.1,148.6 L349.4,148.2 L350.7,147.9 L352.0,147.7 L353.4,147.5 L354.7,147.4 L356.0,147.4 L357.3,147.3 L358.7,147.3 L360.0,147.4 L361.3,147.4 L362.6,147.3 L364.0,147.3 L365.3,147.2 L366.6,147.0 L367.9,146.7 L369.3,146.3 L370.6,145.7 L371.9,145.1 L373.2,144.4 L374.6,143.5 L375.9,142.6 L377.2,141.6 L378.5,140.5 L379.9,139.4 L381.2,138.2 L382.5,137.0 L383.8,135.7 L385.1,134.4 L386.5,133.1 L387.8,131.8 L389.1,130.6 L390.4,129.3 L391.8,128.2 L393.1,127.1 L394.4,126.1 L395.7,125.3 L397.1,124.6 L398.4,124.1 L399.7,123.7 L401.0,123.5 L402.4,123.6 L403.7,123.8 L405.0,124.1 L406.3,124.4 L407.7,124.8 L409.0,125.0 L410.3,125.2 L411.6,125.1 L413.0,124.8 L414.3,124.2 L415.6,123.2 L416.9,121.9 L418.3,120.0 L419.6,117.7 L420.9,115.1 L422.2,112.2 L423.6,109.1 L424.9,105.8 L426.2,102.4 L427.5,98.9 L428.8,95.5 L430.2,92.2 L431.5,89.1 L432.8,86.1 L434.1,83.5 L435.5,81.1 L436.8,78.9 L438.1,77.0 L439.4,75.3 L440.8,73.9 L442.1,72.6 L443.4,71.5 L444.7,70.5 L446.1,69.7 L447.4,69.0 L448.7,68.4 L450.0,67.9 L451.4,67.6 L452.7,67.2 L454.0,67.0 L455.3,66.8 L456.7,66.8 L458.0,66.7 L459.3,66.7 L460.6,66.8 L462.0,66.9 L463.3,67.0 L464.6,67.2 L465.9,67.4 L467.2,67.6 L468.6,67.9 L469.9,68.3 L471.2,68.8 L472.5,69.5 L473.9,70.4 L475.2,71.5 L476.5,72.8 L477.8,74.4 L479.2,76.3 L480.5,78.5 L481.8,81.0 L483.1,83.8 L484.5,86.8 L485.8,90.0 L487.1,93.3 L488.4,96.6 L489.8,99.8 L491.1,103.0 L492.4,106.0 L493.7,108.7 L495.1,111.2 L496.4,113.3 L497.7,115.1 L499.0,116.4 L500.4,117.5 L501.7,118.3 L503.0,119.0 L504.3,119.5 L505.6,120.1 L507.0,120.6 L508.3,121.2 L509.6,121.9 L510.9,122.9 L512.3,124.1 L513.6,125.6 L514.9,127.3 L516.2,129.1 L517.6,130.8 L518.9,132.3 L520.2,133.6 L521.5,134.4 L522.9,134.7 L524.2,134.2 L525.5,133.0 L526.8,130.8 L528.2,127.6 L529.5,123.2 L530.8,117.7 L532.1,111.2 L533.5,103.9 L534.8,95.7 L536.1,86.9 L537.4,77.4 L538.8,67.5 L540.1,57.2 L541.4,46.5 L542.7,35.7 L544.0,24.8 L545.0,24.8 L545.0,155.1 L304.7,155.1 Z" fill="#00bcff" stroke="none"/>
</g>
<g clip-path="url(#clip-b)">
<line x1="305.70" y1="13.60" x2="305.70" y2="153.10" stroke="#70704c" stroke-opacity="0.5" stroke-width="0.55" stroke-dasharray="0.9,1.0"/>
<line x1="321.59" y1="13.60" x2="321.59" y2="153.10" stroke="#70704c" stroke-opacity="0.5" stroke-width="0.55" stroke-dasharray="0.9,1.0"/>
<line x1="337.48" y1="13.60" x2="337.48" y2="153.10" stroke="#70704c" stroke-opacity="0.5" stroke-width="0.55" stroke-dasharray="0.9,1.0"/>
<line x1="353.37" y1="13.60" x2="353.37" y2="153.10" stroke="#70704c" stroke-opacity="0.5" stroke-width="0.55" stroke-dasharray="0.9,1.0"/>
<line x1="369.26" y1="13.60" x2="369.26" y2="153.10" stroke="#70704c" stroke-opacity="0.5" stroke-width="0.55" stroke-dasharray="0.9,1.0"/>
<line x1="385.15" y1="13.60" x2="385.15" y2="153.10" stroke="#70704c" stroke-opacity="0.5" stroke-width="0.55" stroke-dasharray="0.9,1.0"/>
<line x1="401.04" y1="13.60" x2="401.04" y2="153.10" stroke="#70704c" stroke-opacity="0.5" stroke-width="0.55" stroke-dasharray="0.9,1.0"/>
<line x1="416.93" y1="13.60" x2="416.93" y2="153.10" stroke="#70704c" stroke-opacity="0.5" stroke-width="0.55" stroke-dasharray="0.9,1.0"/>
<line x1="432.82" y1="13.60" x2="432.82" y2="153.10" stroke="#70704c" stroke-opacity="0.5" stroke-width="0.55" stroke-dasharray="0.9,1.0"/>
<line x1="448.71" y1="13.60" x2="448.71" y2="153.10" stroke="#70704c" stroke-opacity="0.5" stroke-width="0.55" stroke-dasharray="0.9,1.0"/>
<line x1="464.60" y1="13.60" x2="464.60" y2="153.10" stroke="#70704c" stroke-opacity="0.5" stroke-width="0.55" stroke-dasharray="0.9,1.0"/>
<line x1="480.49" y1="13.60" x2="480.49" y2="153.10" stroke="#70704c" stroke-opacity="0.5" stroke-width="0.55" stroke-dasharray="0.9,1.0"/>
<line x1="496.38" y1="13.60" x2="496.38" y2="153.10" stroke="#70704c" stroke-opacity="0.5" stroke-width="0.55" stroke-dasharray="0.9,1.0"/>
<line x1="512.27" y1="13.60" x2="512.27" y2="153.10" stroke="#70704c" stroke-opacity="0.5" stroke-width="0.55" stroke-dasharray="0.9,1.0"/>
<line x1="528.16" y1="13.60" x2="528.16" y2="153.10" stroke="#70704c" stroke-opacity="0.5" stroke-width="0.55" stroke-dasharray="0.9,1.0"/>
<line x1="544.05" y1="13.60" x2="544.05" y2="153.10" stroke="#70704c" stroke-opacity="0.5" stroke-width="0.55" stroke-dasharray="0.9,1.0"/>
<path d="M305.7,28.0 L307.0,28.1 L308.3,28.2 L309.7,28.3 L311.0,28.4 L312.3,28.5 L313.6,28.5 L315.0,28.4 L316.3,28.3 L317.6,28.2 L318.9,28.0 L320.3,27.7 L321.6,27.3 L322.9,26.8 L324.2,26.2 L325.6,25.6 L326.9,24.9 L328.2,24.2 L329.5,23.5 L330.9,22.8 L332.2,22.1 L333.5,21.4 L334.8,20.7 L336.2,20.1 L337.5,19.6 L338.8,19.2 L340.1,18.8 L341.5,18.5 L342.8,18.3 L344.1,18.2 L345.4,18.1 L346.7,18.0 L348.1,18.1 L349.4,18.2 L350.7,18.3 L352.0,18.4 L353.4,18.6 L354.7,18.8 L356.0,19.1 L357.3,19.3 L358.7,19.6 L360.0,19.8 L361.3,20.0 L362.6,20.2 L364.0,20.4 L365.3,20.4 L366.6,20.5 L367.9,20.4 L369.3,20.3 L370.6,20.1 L371.9,19.8 L373.2,19.4 L374.6,19.0 L375.9,18.6 L377.2,18.1 L378.5,17.6 L379.9,17.1 L381.2,16.6 L382.5,16.2 L383.8,15.8 L385.1,15.4 L386.5,15.1 L387.8,14.9 L389.1,14.7 L390.4,14.6 L391.8,14.5 L393.1,14.5 L394.4,14.5 L395.7,14.5 L397.1,14.6 L398.4,14.7 L399.7,14.8 L401.0,14.9 L402.4,15.0 L403.7,15.1 L405.0,15.2 L406.3,15.2 L407.7,15.3 L409.0,15.4 L410.3,15.5 L411.6,15.5 L413.0,15.5 L414.3,15.5 L415.6,15.5 L416.9,15.4 L418.3,15.3 L419.6,15.2 L420.9,15.1 L422.2,14.9 L423.6,14.7 L424.9,14.5 L426.2,14.4 L427.5,14.2 L428.8,14.0 L430.2,13.9 L431.5,13.7 L432.8,13.6 L434.1,13.5 L435.5,13.5 L436.8,13.4 L438.1,13.4 L439.4,13.4 L440.8,13.4 L442.1,13.4 L443.4,13.5 L444.7,13.5 L446.1,13.5 L447.4,13.6 L448.7,13.6 L450.0,13.6 L451.4,13.6 L452.7,13.6 L454.0,13.7 L455.3,13.7 L456.7,13.7 L458.0,13.6 L459.3,13.6 L460.6,13.6 L462.0,13.6 L463.3,13.6 L464.6,13.6 L465.9,13.6 L467.2,13.6 L468.6,13.6 L469.9,13.6 L471.2,13.6 L472.5,13.6 L473.9,13.6 L475.2,13.6 L476.5,13.6 L477.8,13.6 L479.2,13.6 L480.5,13.6 L481.8,13.6 L483.1,13.6 L484.5,13.6 L485.8,13.6 L487.1,13.6 L488.4,13.6 L489.8,13.6 L491.1,13.6 L492.4,13.6 L493.7,13.6 L495.1,13.6 L496.4,13.6 L497.7,13.6 L499.0,13.6 L500.4,13.6 L501.7,13.6 L503.0,13.6 L504.3,13.6 L505.6,13.6 L507.0,13.6 L508.3,13.6 L509.6,13.6 L510.9,13.6 L512.3,13.6 L513.6,13.6 L514.9,13.6 L516.2,13.6 L517.6,13.6 L518.9,13.6 L520.2,13.6 L521.5,13.6 L522.9,13.6 L524.2,13.6 L525.5,13.6 L526.8,13.6 L528.2,13.6 L529.5,13.6 L530.8,13.6 L532.1,13.6 L533.5,13.6 L534.8,13.6 L536.1,13.6 L537.4,13.6 L538.8,13.6 L540.1,13.6 L541.4,13.6 L542.7,13.6 L544.0,13.6" fill="none" stroke="#94801a" stroke-width="1.05" stroke-linejoin="round"/>
<path d="M305.7,59.5 L307.0,62.7 L308.3,65.8 L309.7,68.8 L311.0,71.7 L312.3,74.5 L313.6,77.0 L315.0,79.3 L316.3,81.3 L317.6,82.9 L318.9,84.1 L320.3,85.0 L321.6,85.3 L322.9,85.2 L324.2,84.5 L325.6,83.5 L326.9,82.2 L328.2,80.6 L329.5,78.7 L330.9,76.7 L332.2,74.6 L333.5,72.5 L334.8,70.3 L336.2,68.3 L337.5,66.3 L338.8,64.6 L340.1,63.0 L341.5,61.6 L342.8,60.4 L344.1,59.4 L345.4,58.5 L346.7,57.9 L348.1,57.4 L349.4,57.1 L350.7,57.0 L352.0,57.0 L353.4,57.3 L354.7,57.7 L356.0,58.2 L357.3,58.8 L358.7,59.4 L360.0,60.0 L361.3,60.5 L362.6,61.0 L364.0,61.2 L365.3,61.2 L366.6,61.0 L367.9,60.4 L369.3,59.5 L370.6,58.2 L371.9,56.5 L373.2,54.5 L374.6,52.3 L375.9,49.9 L377.2,47.4 L378.5,44.8 L379.9,42.2 L381.2,39.7 L382.5,37.3 L383.8,35.0 L385.1,33.0 L386.5,31.2 L387.8,29.7 L389.1,28.5 L390.4,27.5 L391.8,26.6 L393.1,26.0 L394.4,25.5 L395.7,25.2 L397.1,24.9 L398.4,24.8 L399.7,24.8 L401.0,24.8 L402.4,24.8 L403.7,24.9 L405.0,25.0 L406.3,25.1 L407.7,25.2 L409.0,25.3 L410.3,25.4 L411.6,25.5 L413.0,25.5 L414.3,25.6 L415.6,25.5 L416.9,25.5 L418.3,25.3 L419.6,25.1 L420.9,24.9 L422.2,24.6 L423.6,24.3 L424.9,24.0 L426.2,23.6 L427.5,23.3 L428.8,22.9 L430.2,22.5 L431.5,22.1 L432.8,21.7 L434.1,21.3 L435.5,20.9 L436.8,20.6 L438.1,20.2 L439.4,19.9 L440.8,19.6 L442.1,19.2 L443.4,18.9 L444.7,18.7 L446.1,18.4 L447.4,18.2 L448.7,17.9 L450.0,17.7 L451.4,17.5 L452.7,17.3 L454.0,17.2 L455.3,17.0 L456.7,16.8 L458.0,16.7 L459.3,16.5 L460.6,16.4 L462.0,16.2 L463.3,16.0 L464.6,15.8 L465.9,15.6 L467.2,15.4 L468.6,15.2 L469.9,15.0 L471.2,14.8 L472.5,14.7 L473.9,14.5 L475.2,14.4 L476.5,14.2 L477.8,14.2 L479.2,14.1 L480.5,14.2 L481.8,14.2 L483.1,14.3 L484.5,14.5 L485.8,14.7 L487.1,15.0 L488.4,15.3 L489.8,15.7 L491.1,16.1 L492.4,16.6 L493.7,17.1 L495.1,17.7 L496.4,18.3 L497.7,19.0 L499.0,19.8 L500.4,20.5 L501.7,21.2 L503.0,21.9 L504.3,22.6 L505.6,23.2 L507.0,23.8 L508.3,24.2 L509.6,24.5 L510.9,24.7 L512.3,24.8 L513.6,24.6 L514.9,24.4 L516.2,23.9 L517.6,23.4 L518.9,22.8 L520.2,22.2 L521.5,21.4 L522.9,20.7 L524.2,20.0 L525.5,19.2 L526.8,18.5 L528.2,17.9 L529.5,17.4 L530.8,16.9 L532.1,16.5 L533.5,16.2 L534.8,15.9 L536.1,15.6 L537.4,15.5 L538.8,15.3 L540.1,15.2 L541.4,15.0 L542.7,14.9 L544.0,14.9" fill="none" stroke="#84740e" stroke-width="1.25" stroke-linejoin="round"/>
<path d="M305.7,119.2 L307.0,121.1 L308.3,123.0 L309.7,124.8 L311.0,126.5 L312.3,128.1 L313.6,129.6 L315.0,130.9 L316.3,132.0 L317.6,132.8 L318.9,133.4 L320.3,133.7 L321.6,133.7 L322.9,133.4 L324.2,132.7 L325.6,131.8 L326.9,130.7 L328.2,129.4 L329.5,128.0 L330.9,126.5 L332.2,124.9 L333.5,123.4 L334.8,121.9 L336.2,120.5 L337.5,119.2 L338.8,118.1 L340.1,117.2 L341.5,116.4 L342.8,115.8 L344.1,115.3 L345.4,114.9 L346.7,114.7 L348.1,114.6 L349.4,114.6 L350.7,114.6 L352.0,114.8 L353.4,115.0 L354.7,115.3 L356.0,115.6 L357.3,115.9 L358.7,116.1 L360.0,116.2 L361.3,116.1 L362.6,115.9 L364.0,115.5 L365.3,114.8 L366.6,113.7 L367.9,112.3 L369.3,110.6 L370.6,108.4 L371.9,105.8 L373.2,102.9 L374.6,99.9 L375.9,96.7 L377.2,93.4 L378.5,90.1 L379.9,86.8 L381.2,83.7 L382.5,80.8 L383.8,78.2 L385.1,76.0 L386.5,74.1 L387.8,72.6 L389.1,71.5 L390.4,70.7 L391.8,70.2 L393.1,69.9 L394.4,69.9 L395.7,70.0 L397.1,70.2 L398.4,70.5 L399.7,70.9 L401.0,71.4 L402.4,71.8 L403.7,72.2 L405.0,72.5 L406.3,72.7 L407.7,72.8 L409.0,72.8 L410.3,72.7 L411.6,72.3 L413.0,71.7 L414.3,70.9 L415.6,69.8 L416.9,68.4 L418.3,66.7 L419.6,64.8 L420.9,62.6 L422.2,60.3 L423.6,57.8 L424.9,55.3 L426.2,52.8 L427.5,50.3 L428.8,48.0 L430.2,45.7 L431.5,43.7 L432.8,41.9 L434.1,40.4 L435.5,39.2 L436.8,38.2 L438.1,37.5 L439.4,36.9 L440.8,36.4 L442.1,36.1 L443.4,35.9 L444.7,35.7 L446.1,35.5 L447.4,35.3 L448.7,35.1 L450.0,34.8 L451.4,34.4 L452.7,34.0 L454.0,33.5 L455.3,33.0 L456.7,32.4 L458.0,31.7 L459.3,31.1 L460.6,30.3 L462.0,29.6 L463.3,28.8 L464.6,28.0 L465.9,27.1 L467.2,26.3 L468.6,25.5 L469.9,24.7 L471.2,24.0 L472.5,23.4 L473.9,22.9 L475.2,22.5 L476.5,22.3 L477.8,22.3 L479.2,22.5 L480.5,22.9 L481.8,23.6 L483.1,24.5 L484.5,25.6 L485.8,26.9 L487.1,28.4 L488.4,30.1 L489.8,31.8 L491.1,33.7 L492.4,35.7 L493.7,37.7 L495.1,39.8 L496.4,41.9 L497.7,44.1 L499.0,46.2 L500.4,48.4 L501.7,50.5 L503.0,52.7 L504.3,54.9 L505.6,57.1 L507.0,59.3 L508.3,61.6 L509.6,63.9 L510.9,66.1 L512.3,68.4 L513.6,70.7 L514.9,73.0 L516.2,75.1 L517.6,77.1 L518.9,78.8 L520.2,80.2 L521.5,81.2 L522.9,81.8 L524.2,81.9 L525.5,81.4 L526.8,80.3 L528.2,78.5 L529.5,75.9 L530.8,72.6 L532.1,68.7 L533.5,64.2 L534.8,59.1 L536.1,53.7 L537.4,47.8 L538.8,41.6 L540.1,35.2 L541.4,28.6 L542.7,21.8 L544.0,15.0" fill="none" stroke="#0a860a" stroke-width="1.4" stroke-linejoin="round"/>
<path d="M305.7,153.1 L307.0,153.1 L308.3,153.0 L309.7,153.0 L311.0,152.9 L312.3,152.9 L313.6,152.8 L315.0,152.8 L316.3,152.8 L317.6,152.7 L318.9,152.7 L320.3,152.7 L321.6,152.7 L322.9,152.7 L324.2,152.7 L325.6,152.6 L326.9,152.6 L328.2,152.6 L329.5,152.5 L330.9,152.4 L332.2,152.3 L333.5,152.2 L334.8,152.0 L336.2,151.8 L337.5,151.6 L338.8,151.3 L340.1,150.9 L341.5,150.5 L342.8,150.1 L344.1,149.7 L345.4,149.3 L346.7,148.9 L348.1,148.6 L349.4,148.2 L350.7,147.9 L352.0,147.7 L353.4,147.5 L354.7,147.4 L356.0,147.4 L357.3,147.3 L358.7,147.3 L360.0,147.4 L361.3,147.4 L362.6,147.3 L364.0,147.3 L365.3,147.2 L366.6,147.0 L367.9,146.7 L369.3,146.3 L370.6,145.7 L371.9,145.1 L373.2,144.4 L374.6,143.5 L375.9,142.6 L377.2,141.6 L378.5,140.5 L379.9,139.4 L381.2,138.2 L382.5,137.0 L383.8,135.7 L385.1,134.4 L386.5,133.1 L387.8,131.8 L389.1,130.6 L390.4,129.3 L391.8,128.2 L393.1,127.1 L394.4,126.1 L395.7,125.3 L397.1,124.6 L398.4,124.1 L399.7,123.7 L401.0,123.5 L402.4,123.6 L403.7,123.8 L405.0,124.1 L406.3,124.4 L407.7,124.8 L409.0,125.0 L410.3,125.2 L411.6,125.1 L413.0,124.8 L414.3,124.2 L415.6,123.2 L416.9,121.9 L418.3,120.0 L419.6,117.7 L420.9,115.1 L422.2,112.2 L423.6,109.1 L424.9,105.8 L426.2,102.4 L427.5,98.9 L428.8,95.5 L430.2,92.2 L431.5,89.1 L432.8,86.1 L434.1,83.5 L435.5,81.1 L436.8,78.9 L438.1,77.0 L439.4,75.3 L440.8,73.9 L442.1,72.6 L443.4,71.5 L444.7,70.5 L446.1,69.7 L447.4,69.0 L448.7,68.4 L450.0,67.9 L451.4,67.6 L452.7,67.2 L454.0,67.0 L455.3,66.8 L456.7,66.8 L458.0,66.7 L459.3,66.7 L460.6,66.8 L462.0,66.9 L463.3,67.0 L464.6,67.2 L465.9,67.4 L467.2,67.6 L468.6,67.9 L469.9,68.3 L471.2,68.8 L472.5,69.5 L473.9,70.4 L475.2,71.5 L476.5,72.8 L477.8,74.4 L479.2,76.3 L480.5,78.5 L481.8,81.0 L483.1,83.8 L484.5,86.8 L485.8,90.0 L487.1,93.3 L488.4,96.6 L489.8,99.8 L491.1,103.0 L492.4,106.0 L493.7,108.7 L495.1,111.2 L496.4,113.3 L497.7,115.1 L499.0,116.4 L500.4,117.5 L501.7,118.3 L503.0,119.0 L504.3,119.5 L505.6,120.1 L507.0,120.6 L508.3,121.2 L509.6,121.9 L510.9,122.9 L512.3,124.1 L513.6,125.6 L514.9,127.3 L516.2,129.1 L517.6,130.8 L518.9,132.3 L520.2,133.6 L521.5,134.4 L522.9,134.7 L524.2,134.2 L525.5,133.0 L526.8,130.8 L528.2,127.6 L529.5,123.2 L530.8,117.7 L532.1,111.2 L533.5,103.9 L534.8,95.7 L536.1,86.9 L537.4,77.4 L538.8,67.5 L540.1,57.2 L541.4,46.5 L542.7,35.7 L544.0,24.8" fill="none" stroke="#0a0af5" stroke-width="1.5" stroke-linejoin="round"/>
</g>
<line x1="305.70" y1="13.20" x2="305.70" y2="153.50" stroke="#000" stroke-width="0.8"/>
<line x1="305.30" y1="153.10" x2="544.45" y2="153.10" stroke="#000" stroke-width="0.8"/>
<line x1="302.10" y1="153.10" x2="305.70" y2="153.10" stroke="#000" stroke-width="0.7"/>
<text font-size="8.6" text-anchor="end" fill="#151515" transform="translate(299.40,156.00) scale(0.92,1)">0</text>
<line x1="304.10" y1="139.15" x2="305.70" y2="139.15" stroke="#000" stroke-width="0.7"/>
<line x1="302.10" y1="125.20" x2="305.70" y2="125.20" stroke="#000" stroke-width="0.7"/>
<text font-size="8.6" text-anchor="end" fill="#151515" transform="translate(299.40,128.10) scale(0.92,1)">20</text>
<line x1="304.10" y1="111.25" x2="305.70" y2="111.25" stroke="#000" stroke-width="0.7"/>
<line x1="302.10" y1="97.30" x2="305.70" y2="97.30" stroke="#000" stroke-width="0.7"/>
<text font-size="8.6" text-anchor="end" fill="#151515" transform="translate(299.40,100.20) scale(0.92,1)">40</text>
<line x1="304.10" y1="83.35" x2="305.70" y2="83.35" stroke="#000" stroke-width="0.7"/>
<line x1="302.10" y1="69.40" x2="305.70" y2="69.40" stroke="#000" stroke-width="0.7"/>
<text font-size="8.6" text-anchor="end" fill="#151515" transform="translate(299.40,72.30) scale(0.92,1)">60</text>
<line x1="304.10" y1="55.45" x2="305.70" y2="55.45" stroke="#000" stroke-width="0.7"/>
<line x1="302.10" y1="41.50" x2="305.70" y2="41.50" stroke="#000" stroke-width="0.7"/>
<text font-size="8.6" text-anchor="end" fill="#151515" transform="translate(299.40,44.40) scale(0.92,1)">80</text>
<line x1="304.10" y1="27.55" x2="305.70" y2="27.55" stroke="#000" stroke-width="0.7"/>
<line x1="302.10" y1="13.60" x2="305.70" y2="13.60" stroke="#000" stroke-width="0.7"/>
<text font-size="8.6" text-anchor="end" fill="#151515" transform="translate(299.40,16.50) scale(0.92,1)">100</text>
<line x1="305.70" y1="153.10" x2="305.70" y2="156.10" stroke="#000" stroke-width="0.7"/>
<text class="b" font-size="5.4" text-anchor="end" transform="translate(305.90,158.10) rotate(-47) scale(1.0,1)">LCZ1</text>
<line x1="321.59" y1="153.10" x2="321.59" y2="156.10" stroke="#000" stroke-width="0.7"/>
<text class="b" font-size="5.4" text-anchor="end" transform="translate(321.79,158.10) rotate(-47) scale(1.0,1)">LCZ2</text>
<line x1="337.48" y1="153.10" x2="337.48" y2="156.10" stroke="#000" stroke-width="0.7"/>
<text class="b" font-size="5.4" text-anchor="end" transform="translate(337.68,158.10) rotate(-47) scale(1.0,1)">LCZ3</text>
<line x1="353.37" y1="153.10" x2="353.37" y2="156.10" stroke="#000" stroke-width="0.7"/>
<text class="b" font-size="5.4" text-anchor="end" transform="translate(353.57,158.10) rotate(-47) scale(1.0,1)">LCZ4</text>
<line x1="369.26" y1="153.10" x2="369.26" y2="156.10" stroke="#000" stroke-width="0.7"/>
<text class="b" font-size="5.4" text-anchor="end" transform="translate(369.46,158.10) rotate(-47) scale(1.0,1)">LCZ5</text>
<line x1="385.15" y1="153.10" x2="385.15" y2="156.10" stroke="#000" stroke-width="0.7"/>
<text class="b" font-size="5.4" text-anchor="end" transform="translate(385.35,158.10) rotate(-47) scale(1.0,1)">LCZ6</text>
<line x1="401.04" y1="153.10" x2="401.04" y2="156.10" stroke="#000" stroke-width="0.7"/>
<text class="b" font-size="5.4" text-anchor="end" transform="translate(401.24,158.10) rotate(-47) scale(1.0,1)">LCZ7</text>
<line x1="416.93" y1="153.10" x2="416.93" y2="156.10" stroke="#000" stroke-width="0.7"/>
<text class="b" font-size="5.4" text-anchor="end" transform="translate(417.13,158.10) rotate(-47) scale(1.0,1)">LCZ8</text>
<line x1="432.82" y1="153.10" x2="432.82" y2="156.10" stroke="#000" stroke-width="0.7"/>
<text class="b" font-size="5.4" text-anchor="end" transform="translate(433.02,158.10) rotate(-47) scale(1.0,1)">LCZ9</text>
<line x1="448.71" y1="153.10" x2="448.71" y2="156.10" stroke="#000" stroke-width="0.7"/>
<text class="b" font-size="5.4" text-anchor="end" transform="translate(448.91,158.10) rotate(-47) scale(1.0,1)">LCZA</text>
<line x1="464.60" y1="153.10" x2="464.60" y2="156.10" stroke="#000" stroke-width="0.7"/>
<text class="b" font-size="5.4" text-anchor="end" transform="translate(464.80,158.10) rotate(-47) scale(1.0,1)">LCZB</text>
<line x1="480.49" y1="153.10" x2="480.49" y2="156.10" stroke="#000" stroke-width="0.7"/>
<text class="b" font-size="5.4" text-anchor="end" transform="translate(480.69,158.10) rotate(-47) scale(1.0,1)">LCZC</text>
<line x1="496.38" y1="153.10" x2="496.38" y2="156.10" stroke="#000" stroke-width="0.7"/>
<text class="b" font-size="5.4" text-anchor="end" transform="translate(496.58,158.10) rotate(-47) scale(1.0,1)">LCZD</text>
<line x1="512.27" y1="153.10" x2="512.27" y2="156.10" stroke="#000" stroke-width="0.7"/>
<text class="b" font-size="5.4" text-anchor="end" transform="translate(512.47,158.10) rotate(-47) scale(1.0,1)">LCZE</text>
<line x1="528.16" y1="153.10" x2="528.16" y2="156.10" stroke="#000" stroke-width="0.7"/>
<text class="b" font-size="5.4" text-anchor="end" transform="translate(528.36,158.10) rotate(-47) scale(1.0,1)">LCZF</text>
<line x1="544.05" y1="153.10" x2="544.05" y2="156.10" stroke="#000" stroke-width="0.7"/>
<text class="b" font-size="5.4" text-anchor="end" transform="translate(544.25,158.10) rotate(-47) scale(1.0,1)">LCZG</text>
<text class="b" font-size="8.4" text-anchor="middle" textLength="101.5" lengthAdjust="spacingAndGlyphs" transform="translate(286.40,85.75) rotate(-90)">The proportion of risk levels</text>
<text class="b" font-size="8.3" text-anchor="middle" x="430.07" y="175.50">LCZ types</text>
<text font-size="10.8" x="303.00" y="12.40"><tspan class="b">(b)</tspan><tspan dx="0.8">Summer</tspan></text>
</g>
<g id="panel-c">
<clipPath id="clipf-c"><rect x="31.50" y="182.35" width="239.10" height="140.05"/></clipPath>
<clipPath id="clip-c"><rect x="31.50" y="182.35" width="239.70" height="140.05"/></clipPath>
<g clip-path="url(#clipf-c)">
<rect x="30.50" y="181.00" width="241.10" height="142.90" fill="#ff0000"/>
<path d="M30.5,196.4 L31.5,196.4 L32.8,196.5 L34.2,196.5 L35.5,196.6 L36.8,196.6 L38.1,196.6 L39.5,196.5 L40.8,196.5 L42.1,196.3 L43.5,196.1 L44.8,195.9 L46.1,195.6 L47.4,195.2 L48.8,194.7 L50.1,194.1 L51.4,193.5 L52.8,192.8 L54.1,192.1 L55.4,191.4 L56.7,190.7 L58.1,190.0 L59.4,189.4 L60.7,188.7 L62.1,188.1 L63.4,187.6 L64.7,187.1 L66.0,186.8 L67.4,186.5 L68.7,186.2 L70.0,186.0 L71.3,185.9 L72.7,185.9 L74.0,185.9 L75.3,185.9 L76.7,186.0 L78.0,186.2 L79.3,186.3 L80.6,186.6 L82.0,186.8 L83.3,187.1 L84.6,187.3 L86.0,187.6 L87.3,187.9 L88.6,188.1 L89.9,188.2 L91.3,188.4 L92.6,188.4 L93.9,188.4 L95.3,188.3 L96.6,188.1 L97.9,187.8 L99.2,187.4 L100.6,187.0 L101.9,186.6 L103.2,186.1 L104.6,185.6 L105.9,185.1 L107.2,184.6 L108.5,184.1 L109.9,183.6 L111.2,183.3 L112.5,182.9 L113.9,182.7 L115.2,182.5 L116.5,182.3 L117.8,182.2 L119.2,182.1 L120.5,182.0 L121.8,182.0 L123.2,182.0 L124.5,182.0 L125.8,182.0 L127.1,182.0 L128.5,182.0 L129.8,182.0 L131.1,182.0 L132.5,182.0 L133.8,182.0 L135.1,182.0 L136.4,182.0 L137.8,182.0 L139.1,182.0 L140.4,182.0 L141.8,182.0 L143.1,182.0 L144.4,182.0 L145.7,182.0 L147.1,182.0 L148.4,182.0 L149.7,182.0 L151.1,182.0 L152.4,182.0 L153.7,182.0 L155.0,182.0 L156.4,182.0 L157.7,182.0 L159.0,182.0 L160.3,182.0 L161.7,182.0 L163.0,182.0 L164.3,182.0 L165.7,182.0 L167.0,182.0 L168.3,182.0 L169.6,182.0 L171.0,182.0 L172.3,182.0 L173.6,182.0 L175.0,182.0 L176.3,182.0 L177.6,182.0 L178.9,182.0 L180.3,182.0 L181.6,182.0 L182.9,182.0 L184.3,182.0 L185.6,182.0 L186.9,182.0 L188.2,182.0 L189.6,182.0 L190.9,182.0 L192.2,182.0 L193.6,182.0 L194.9,182.0 L196.2,182.0 L197.5,182.0 L198.9,182.0 L200.2,182.0 L201.5,182.0 L202.9,182.0 L204.2,182.0 L205.5,182.0 L206.8,182.0 L208.2,182.0 L209.5,182.0 L210.8,182.0 L212.2,182.0 L213.5,182.0 L214.8,182.0 L216.1,182.0 L217.5,182.0 L218.8,182.0 L220.1,182.0 L221.5,182.0 L222.8,182.0 L224.1,182.0 L225.4,182.0 L226.8,182.0 L228.1,182.0 L229.4,182.0 L230.8,182.0 L232.1,182.0 L233.4,182.0 L234.7,182.0 L236.1,182.0 L237.4,182.0 L238.7,182.0 L240.0,182.0 L241.4,182.0 L242.7,182.0 L244.0,182.0 L245.4,182.0 L246.7,182.0 L248.0,182.0 L249.3,182.0 L250.7,182.0 L252.0,182.0 L253.3,182.0 L254.7,182.0 L256.0,182.0 L257.3,182.0 L258.6,182.0 L260.0,182.0 L261.3,182.0 L262.6,182.0 L264.0,182.0 L265.3,182.0 L266.6,182.0 L267.9,182.0 L269.3,182.0 L270.6,182.0 L271.6,182.0 L271.6,323.9 L30.5,323.9 Z" fill="#ff8214" stroke="none"/>
<path d="M30.5,211.7 L31.5,211.7 L32.8,216.5 L34.2,221.2 L35.5,225.9 L36.8,230.4 L38.1,234.6 L39.5,238.6 L40.8,242.2 L42.1,245.4 L43.5,248.2 L44.8,250.5 L46.1,252.2 L47.4,253.3 L48.8,253.8 L50.1,253.6 L51.4,253.0 L52.8,251.8 L54.1,250.2 L55.4,248.3 L56.7,246.2 L58.1,243.8 L59.4,241.4 L60.7,238.8 L62.1,236.3 L63.4,233.9 L64.7,231.6 L66.0,229.5 L67.4,227.5 L68.7,225.8 L70.0,224.2 L71.3,222.8 L72.7,221.7 L74.0,220.8 L75.3,220.1 L76.7,219.7 L78.0,219.6 L79.3,219.8 L80.6,220.2 L82.0,220.9 L83.3,221.7 L84.6,222.7 L86.0,223.7 L87.3,224.6 L88.6,225.5 L89.9,226.2 L91.3,226.7 L92.6,227.0 L93.9,226.9 L95.3,226.3 L96.6,225.4 L97.9,224.0 L99.2,222.3 L100.6,220.3 L101.9,218.1 L103.2,215.7 L104.6,213.2 L105.9,210.7 L107.2,208.2 L108.5,205.8 L109.9,203.5 L111.2,201.4 L112.5,199.6 L113.9,198.0 L115.2,196.7 L116.5,195.6 L117.8,194.7 L119.2,193.9 L120.5,193.4 L121.8,193.0 L123.2,192.7 L124.5,192.6 L125.8,192.6 L127.1,192.6 L128.5,192.8 L129.8,193.0 L131.1,193.3 L132.5,193.6 L133.8,193.9 L135.1,194.2 L136.4,194.5 L137.8,194.8 L139.1,195.0 L140.4,195.1 L141.8,195.2 L143.1,195.2 L144.4,195.0 L145.7,194.7 L147.1,194.4 L148.4,193.9 L149.7,193.4 L151.1,192.9 L152.4,192.3 L153.7,191.7 L155.0,191.1 L156.4,190.4 L157.7,189.8 L159.0,189.3 L160.3,188.7 L161.7,188.3 L163.0,187.8 L164.3,187.4 L165.7,187.0 L167.0,186.7 L168.3,186.3 L169.6,186.0 L171.0,185.8 L172.3,185.5 L173.6,185.3 L175.0,185.1 L176.3,184.9 L177.6,184.7 L178.9,184.5 L180.3,184.4 L181.6,184.2 L182.9,184.1 L184.3,183.9 L185.6,183.8 L186.9,183.6 L188.2,183.5 L189.6,183.4 L190.9,183.3 L192.2,183.1 L193.6,183.0 L194.9,182.9 L196.2,182.8 L197.5,182.7 L198.9,182.6 L200.2,182.5 L201.5,182.5 L202.9,182.4 L204.2,182.4 L205.5,182.5 L206.8,182.6 L208.2,182.7 L209.5,182.8 L210.8,183.0 L212.2,183.2 L213.5,183.5 L214.8,183.8 L216.1,184.2 L217.5,184.6 L218.8,185.1 L220.1,185.6 L221.5,186.1 L222.8,186.8 L224.1,187.4 L225.4,188.1 L226.8,188.8 L228.1,189.5 L229.4,190.3 L230.8,191.0 L232.1,191.6 L233.4,192.2 L234.7,192.8 L236.1,193.3 L237.4,193.6 L238.7,193.9 L240.0,194.0 L241.4,194.1 L242.7,194.0 L244.0,193.8 L245.4,193.6 L246.7,193.2 L248.0,192.8 L249.3,192.4 L250.7,191.9 L252.0,191.3 L253.3,190.7 L254.7,190.1 L256.0,189.5 L257.3,188.8 L258.6,188.2 L260.0,187.5 L261.3,186.9 L262.6,186.2 L264.0,185.5 L265.3,184.8 L266.6,184.1 L267.9,183.4 L269.3,182.7 L270.6,182.0 L271.6,182.0 L271.6,323.9 L30.5,323.9 Z" fill="#f4e45e" stroke="none"/>
<path d="M30.5,286.9 L31.5,286.9 L32.8,289.1 L34.2,291.3 L35.5,293.4 L36.8,295.5 L38.1,297.4 L39.5,299.2 L40.8,300.9 L42.1,302.4 L43.5,303.6 L44.8,304.6 L46.1,305.4 L47.4,305.8 L48.8,306.0 L50.1,305.8 L51.4,305.4 L52.8,304.7 L54.1,303.9 L55.4,302.8 L56.7,301.6 L58.1,300.3 L59.4,298.9 L60.7,297.4 L62.1,295.9 L63.4,294.3 L64.7,292.8 L66.0,291.3 L67.4,289.9 L68.7,288.5 L70.0,287.2 L71.3,285.9 L72.7,284.8 L74.0,283.8 L75.3,283.0 L76.7,282.3 L78.0,281.8 L79.3,281.5 L80.6,281.3 L82.0,281.4 L83.3,281.5 L84.6,281.7 L86.0,281.9 L87.3,282.1 L88.6,282.1 L89.9,282.1 L91.3,281.8 L92.6,281.4 L93.9,280.6 L95.3,279.5 L96.6,278.1 L97.9,276.3 L99.2,274.2 L100.6,271.9 L101.9,269.3 L103.2,266.6 L104.6,263.8 L105.9,260.9 L107.2,258.0 L108.5,255.1 L109.9,252.3 L111.2,249.6 L112.5,247.0 L113.9,244.6 L115.2,242.3 L116.5,240.2 L117.8,238.3 L119.2,236.6 L120.5,235.2 L121.8,233.9 L123.2,232.9 L124.5,232.1 L125.8,231.6 L127.1,231.4 L128.5,231.4 L129.8,231.6 L131.1,232.1 L132.5,232.6 L133.8,233.1 L135.1,233.7 L136.4,234.2 L137.8,234.6 L139.1,234.8 L140.4,234.8 L141.8,234.5 L143.1,233.9 L144.4,232.9 L145.7,231.6 L147.1,229.9 L148.4,228.0 L149.7,226.0 L151.1,223.7 L152.4,221.4 L153.7,219.1 L155.0,216.8 L156.4,214.5 L157.7,212.4 L159.0,210.4 L160.3,208.6 L161.7,207.1 L163.0,205.7 L164.3,204.5 L165.7,203.4 L167.0,202.5 L168.3,201.7 L169.6,201.0 L171.0,200.4 L172.3,199.9 L173.6,199.4 L175.0,198.9 L176.3,198.5 L177.6,198.1 L178.9,197.7 L180.3,197.3 L181.6,196.9 L182.9,196.5 L184.3,196.1 L185.6,195.6 L186.9,195.1 L188.2,194.6 L189.6,194.0 L190.9,193.3 L192.2,192.6 L193.6,191.9 L194.9,191.2 L196.2,190.5 L197.5,189.8 L198.9,189.3 L200.2,188.9 L201.5,188.7 L202.9,188.7 L204.2,188.9 L205.5,189.3 L206.8,190.1 L208.2,191.2 L209.5,192.6 L210.8,194.3 L212.2,196.2 L213.5,198.4 L214.8,200.8 L216.1,203.3 L217.5,206.0 L218.8,208.9 L220.1,211.8 L221.5,214.9 L222.8,218.0 L224.1,221.1 L225.4,224.2 L226.8,227.3 L228.1,230.4 L229.4,233.5 L230.8,236.5 L232.1,239.4 L233.4,242.2 L234.7,244.9 L236.1,247.5 L237.4,249.9 L238.7,252.1 L240.0,254.1 L241.4,255.9 L242.7,257.4 L244.0,258.6 L245.4,259.4 L246.7,259.9 L248.0,259.9 L249.3,259.4 L250.7,258.4 L252.0,256.9 L253.3,254.7 L254.7,251.9 L256.0,248.5 L257.3,244.4 L258.6,239.8 L260.0,234.7 L261.3,229.1 L262.6,223.1 L264.0,216.8 L265.3,210.1 L266.6,203.3 L267.9,196.3 L269.3,189.2 L270.6,182.0 L271.6,182.0 L271.6,323.9 L30.5,323.9 Z" fill="#80d89a" stroke="none"/>
<path d="M30.5,321.9 L31.5,321.9 L32.8,321.9 L34.2,321.9 L35.5,321.9 L36.8,321.9 L38.1,321.9 L39.5,321.9 L40.8,321.9 L42.1,321.8 L43.5,321.8 L44.8,321.7 L46.1,321.7 L47.4,321.6 L48.8,321.5 L50.1,321.4 L51.4,321.3 L52.8,321.2 L54.1,321.0 L55.4,320.9 L56.7,320.6 L58.1,320.4 L59.4,320.1 L60.7,319.8 L62.1,319.5 L63.4,319.1 L64.7,318.7 L66.0,318.2 L67.4,317.8 L68.7,317.3 L70.0,316.8 L71.3,316.4 L72.7,316.0 L74.0,315.6 L75.3,315.3 L76.7,315.0 L78.0,314.8 L79.3,314.8 L80.6,314.8 L82.0,314.9 L83.3,315.1 L84.6,315.3 L86.0,315.5 L87.3,315.8 L88.6,316.1 L89.9,316.3 L91.3,316.5 L92.6,316.6 L93.9,316.6 L95.3,316.6 L96.6,316.4 L97.9,316.1 L99.2,315.7 L100.6,315.2 L101.9,314.6 L103.2,313.8 L104.6,313.0 L105.9,312.0 L107.2,310.9 L108.5,309.7 L109.9,308.4 L111.2,306.9 L112.5,305.4 L113.9,303.8 L115.2,302.1 L116.5,300.5 L117.8,298.9 L119.2,297.3 L120.5,295.9 L121.8,294.6 L123.2,293.5 L124.5,292.7 L125.8,292.1 L127.1,291.8 L128.5,291.9 L129.8,292.2 L131.1,292.6 L132.5,293.2 L133.8,293.8 L135.1,294.4 L136.4,294.8 L137.8,295.1 L139.1,295.0 L140.4,294.5 L141.8,293.7 L143.1,292.2 L144.4,290.2 L145.7,287.7 L147.1,284.8 L148.4,281.5 L149.7,277.9 L151.1,274.2 L152.4,270.3 L153.7,266.5 L155.0,262.7 L156.4,259.1 L157.7,255.7 L159.0,252.6 L160.3,250.0 L161.7,247.7 L163.0,245.8 L164.3,244.1 L165.7,242.7 L167.0,241.6 L168.3,240.6 L169.6,239.8 L171.0,239.1 L172.3,238.5 L173.6,238.0 L175.0,237.4 L176.3,236.8 L177.6,236.2 L178.9,235.5 L180.3,234.8 L181.6,234.0 L182.9,233.1 L184.3,232.2 L185.6,231.1 L186.9,229.9 L188.2,228.6 L189.6,227.1 L190.9,225.5 L192.2,223.8 L193.6,221.9 L194.9,220.1 L196.2,218.3 L197.5,216.7 L198.9,215.2 L200.2,214.1 L201.5,213.4 L202.9,213.0 L204.2,213.2 L205.5,214.0 L206.8,215.4 L208.2,217.6 L209.5,220.4 L210.8,223.8 L212.2,227.7 L213.5,232.0 L214.8,236.6 L216.1,241.5 L217.5,246.5 L218.8,251.6 L220.1,256.7 L221.5,261.8 L222.8,266.6 L224.1,271.3 L225.4,275.7 L226.8,279.8 L228.1,283.8 L229.4,287.5 L230.8,290.9 L232.1,294.2 L233.4,297.2 L234.7,300.0 L236.1,302.6 L237.4,305.0 L238.7,307.2 L240.0,309.2 L241.4,310.9 L242.7,312.3 L244.0,313.2 L245.4,313.7 L246.7,313.7 L248.0,313.0 L249.3,311.7 L250.7,309.6 L252.0,306.7 L253.3,302.9 L254.7,298.1 L256.0,292.4 L257.3,285.7 L258.6,278.2 L260.0,269.9 L261.3,260.9 L262.6,251.3 L264.0,241.3 L265.3,230.8 L266.6,219.9 L267.9,208.8 L269.3,197.6 L270.6,186.2 L271.6,186.2 L271.6,323.9 L30.5,323.9 Z" fill="#00bcff" stroke="none"/>
</g>
<g clip-path="url(#clip-c)">
<line x1="31.50" y1="182.00" x2="31.50" y2="321.90" stroke="#70704c" stroke-opacity="0.5" stroke-width="0.55" stroke-dasharray="0.9,1.0"/>
<line x1="47.44" y1="182.00" x2="47.44" y2="321.90" stroke="#70704c" stroke-opacity="0.5" stroke-width="0.55" stroke-dasharray="0.9,1.0"/>
<line x1="63.38" y1="182.00" x2="63.38" y2="321.90" stroke="#70704c" stroke-opacity="0.5" stroke-width="0.55" stroke-dasharray="0.9,1.0"/>
<line x1="79.32" y1="182.00" x2="79.32" y2="321.90" stroke="#70704c" stroke-opacity="0.5" stroke-width="0.55" stroke-dasharray="0.9,1.0"/>
<line x1="95.26" y1="182.00" x2="95.26" y2="321.90" stroke="#70704c" stroke-opacity="0.5" stroke-width="0.55" stroke-dasharray="0.9,1.0"/>
<line x1="111.20" y1="182.00" x2="111.20" y2="321.90" stroke="#70704c" stroke-opacity="0.5" stroke-width="0.55" stroke-dasharray="0.9,1.0"/>
<line x1="127.14" y1="182.00" x2="127.14" y2="321.90" stroke="#70704c" stroke-opacity="0.5" stroke-width="0.55" stroke-dasharray="0.9,1.0"/>
<line x1="143.08" y1="182.00" x2="143.08" y2="321.90" stroke="#70704c" stroke-opacity="0.5" stroke-width="0.55" stroke-dasharray="0.9,1.0"/>
<line x1="159.02" y1="182.00" x2="159.02" y2="321.90" stroke="#70704c" stroke-opacity="0.5" stroke-width="0.55" stroke-dasharray="0.9,1.0"/>
<line x1="174.96" y1="182.00" x2="174.96" y2="321.90" stroke="#70704c" stroke-opacity="0.5" stroke-width="0.55" stroke-dasharray="0.9,1.0"/>
<line x1="190.90" y1="182.00" x2="190.90" y2="321.90" stroke="#70704c" stroke-opacity="0.5" stroke-width="0.55" stroke-dasharray="0.9,1.0"/>
<line x1="206.84" y1="182.00" x2="206.84" y2="321.90" stroke="#70704c" stroke-opacity="0.5" stroke-width="0.55" stroke-dasharray="0.9,1.0"/>
<line x1="222.78" y1="182.00" x2="222.78" y2="321.90" stroke="#70704c" stroke-opacity="0.5" stroke-width="0.55" stroke-dasharray="0.9,1.0"/>
<line x1="238.72" y1="182.00" x2="238.72" y2="321.90" stroke="#70704c" stroke-opacity="0.5" stroke-width="0.55" stroke-dasharray="0.9,1.0"/>
<line x1="254.66" y1="182.00" x2="254.66" y2="321.90" stroke="#70704c" stroke-opacity="0.5" stroke-width="0.55" stroke-dasharray="0.9,1.0"/>
<line x1="270.60" y1="182.00" x2="270.60" y2="321.90" stroke="#70704c" stroke-opacity="0.5" stroke-width="0.55" stroke-dasharray="0.9,1.0"/>
<path d="M31.5,196.4 L32.8,196.5 L34.2,196.5 L35.5,196.6 L36.8,196.6 L38.1,196.6 L39.5,196.5 L40.8,196.5 L42.1,196.3 L43.5,196.1 L44.8,195.9 L46.1,195.6 L47.4,195.2 L48.8,194.7 L50.1,194.1 L51.4,193.5 L52.8,192.8 L54.1,192.1 L55.4,191.4 L56.7,190.7 L58.1,190.0 L59.4,189.4 L60.7,188.7 L62.1,188.1 L63.4,187.6 L64.7,187.1 L66.0,186.8 L67.4,186.5 L68.7,186.2 L70.0,186.0 L71.3,185.9 L72.7,185.9 L74.0,185.9 L75.3,185.9 L76.7,186.0 L78.0,186.2 L79.3,186.3 L80.6,186.6 L82.0,186.8 L83.3,187.1 L84.6,187.3 L86.0,187.6 L87.3,187.9 L88.6,188.1 L89.9,188.2 L91.3,188.4 L92.6,188.4 L93.9,188.4 L95.3,188.3 L96.6,188.1 L97.9,187.8 L99.2,187.4 L100.6,187.0 L101.9,186.6 L103.2,186.1 L104.6,185.6 L105.9,185.1 L107.2,184.6 L108.5,184.1 L109.9,183.6 L111.2,183.3 L112.5,182.9 L113.9,182.7 L115.2,182.5 L116.5,182.3 L117.8,182.2 L119.2,182.1 L120.5,182.0 L121.8,182.0 L123.2,182.0 L124.5,182.0 L125.8,182.0 L127.1,182.0 L128.5,182.0 L129.8,182.0 L131.1,182.0 L132.5,182.0 L133.8,182.0 L135.1,182.0 L136.4,182.0 L137.8,182.0 L139.1,182.0 L140.4,182.0 L141.8,182.0 L143.1,182.0 L144.4,182.0 L145.7,182.0 L147.1,182.0 L148.4,182.0 L149.7,182.0 L151.1,182.0 L152.4,182.0 L153.7,182.0 L155.0,182.0 L156.4,182.0 L157.7,182.0 L159.0,182.0 L160.3,182.0 L161.7,182.0 L163.0,182.0 L164.3,182.0 L165.7,182.0 L167.0,182.0 L168.3,182.0 L169.6,182.0 L171.0,182.0 L172.3,182.0 L173.6,182.0 L175.0,182.0 L176.3,182.0 L177.6,182.0 L178.9,182.0 L180.3,182.0 L181.6,182.0 L182.9,182.0 L184.3,182.0 L185.6,182.0 L186.9,182.0 L188.2,182.0 L189.6,182.0 L190.9,182.0 L192.2,182.0 L193.6,182.0 L194.9,182.0 L196.2,182.0 L197.5,182.0 L198.9,182.0 L200.2,182.0 L201.5,182.0 L202.9,182.0 L204.2,182.0 L205.5,182.0 L206.8,182.0 L208.2,182.0 L209.5,182.0 L210.8,182.0 L212.2,182.0 L213.5,182.0 L214.8,182.0 L216.1,182.0 L217.5,182.0 L218.8,182.0 L220.1,182.0 L221.5,182.0 L222.8,182.0 L224.1,182.0 L225.4,182.0 L226.8,182.0 L228.1,182.0 L229.4,182.0 L230.8,182.0 L232.1,182.0 L233.4,182.0 L234.7,182.0 L236.1,182.0 L237.4,182.0 L238.7,182.0 L240.0,182.0 L241.4,182.0 L242.7,182.0 L244.0,182.0 L245.4,182.0 L246.7,182.0 L248.0,182.0 L249.3,182.0 L250.7,182.0 L252.0,182.0 L253.3,182.0 L254.7,182.0 L256.0,182.0 L257.3,182.0 L258.6,182.0 L260.0,182.0 L261.3,182.0 L262.6,182.0 L264.0,182.0 L265.3,182.0 L266.6,182.0 L267.9,182.0 L269.3,182.0 L270.6,182.0" fill="none" stroke="#94801a" stroke-width="1.05" stroke-linejoin="round"/>
<path d="M31.5,211.7 L32.8,216.5 L34.2,221.2 L35.5,225.9 L36.8,230.4 L38.1,234.6 L39.5,238.6 L40.8,242.2 L42.1,245.4 L43.5,248.2 L44.8,250.5 L46.1,252.2 L47.4,253.3 L48.8,253.8 L50.1,253.6 L51.4,253.0 L52.8,251.8 L54.1,250.2 L55.4,248.3 L56.7,246.2 L58.1,243.8 L59.4,241.4 L60.7,238.8 L62.1,236.3 L63.4,233.9 L64.7,231.6 L66.0,229.5 L67.4,227.5 L68.7,225.8 L70.0,224.2 L71.3,222.8 L72.7,221.7 L74.0,220.8 L75.3,220.1 L76.7,219.7 L78.0,219.6 L79.3,219.8 L80.6,220.2 L82.0,220.9 L83.3,221.7 L84.6,222.7 L86.0,223.7 L87.3,224.6 L88.6,225.5 L89.9,226.2 L91.3,226.7 L92.6,227.0 L93.9,226.9 L95.3,226.3 L96.6,225.4 L97.9,224.0 L99.2,222.3 L100.6,220.3 L101.9,218.1 L103.2,215.7 L104.6,213.2 L105.9,210.7 L107.2,208.2 L108.5,205.8 L109.9,203.5 L111.2,201.4 L112.5,199.6 L113.9,198.0 L115.2,196.7 L116.5,195.6 L117.8,194.7 L119.2,193.9 L120.5,193.4 L121.8,193.0 L123.2,192.7 L124.5,192.6 L125.8,192.6 L127.1,192.6 L128.5,192.8 L129.8,193.0 L131.1,193.3 L132.5,193.6 L133.8,193.9 L135.1,194.2 L136.4,194.5 L137.8,194.8 L139.1,195.0 L140.4,195.1 L141.8,195.2 L143.1,195.2 L144.4,195.0 L145.7,194.7 L147.1,194.4 L148.4,193.9 L149.7,193.4 L151.1,192.9 L152.4,192.3 L153.7,191.7 L155.0,191.1 L156.4,190.4 L157.7,189.8 L159.0,189.3 L160.3,188.7 L161.7,188.3 L163.0,187.8 L164.3,187.4 L165.7,187.0 L167.0,186.7 L168.3,186.3 L169.6,186.0 L171.0,185.8 L172.3,185.5 L173.6,185.3 L175.0,185.1 L176.3,184.9 L177.6,184.7 L178.9,184.5 L180.3,184.4 L181.6,184.2 L182.9,184.1 L184.3,183.9 L185.6,183.8 L186.9,183.6 L188.2,183.5 L189.6,183.4 L190.9,183.3 L192.2,183.1 L193.6,183.0 L194.9,182.9 L196.2,182.8 L197.5,182.7 L198.9,182.6 L200.2,182.5 L201.5,182.5 L202.9,182.4 L204.2,182.4 L205.5,182.5 L206.8,182.6 L208.2,182.7 L209.5,182.8 L210.8,183.0 L212.2,183.2 L213.5,183.5 L214.8,183.8 L216.1,184.2 L217.5,184.6 L218.8,185.1 L220.1,185.6 L221.5,186.1 L222.8,186.8 L224.1,187.4 L225.4,188.1 L226.8,188.8 L228.1,189.5 L229.4,190.3 L230.8,191.0 L232.1,191.6 L233.4,192.2 L234.7,192.8 L236.1,193.3 L237.4,193.6 L238.7,193.9 L240.0,194.0 L241.4,194.1 L242.7,194.0 L244.0,193.8 L245.4,193.6 L246.7,193.2 L248.0,192.8 L249.3,192.4 L250.7,191.9 L252.0,191.3 L253.3,190.7 L254.7,190.1 L256.0,189.5 L257.3,188.8 L258.6,188.2 L260.0,187.5 L261.3,186.9 L262.6,186.2 L264.0,185.5 L265.3,184.8 L266.6,184.1 L267.9,183.4 L269.3,182.7 L270.6,182.0" fill="none" stroke="#84740e" stroke-width="1.25" stroke-linejoin="round"/>
<path d="M31.5,286.9 L32.8,289.1 L34.2,291.3 L35.5,293.4 L36.8,295.5 L38.1,297.4 L39.5,299.2 L40.8,300.9 L42.1,302.4 L43.5,303.6 L44.8,304.6 L46.1,305.4 L47.4,305.8 L48.8,306.0 L50.1,305.8 L51.4,305.4 L52.8,304.7 L54.1,303.9 L55.4,302.8 L56.7,301.6 L58.1,300.3 L59.4,298.9 L60.7,297.4 L62.1,295.9 L63.4,294.3 L64.7,292.8 L66.0,291.3 L67.4,289.9 L68.7,288.5 L70.0,287.2 L71.3,285.9 L72.7,284.8 L74.0,283.8 L75.3,283.0 L76.7,282.3 L78.0,281.8 L79.3,281.5 L80.6,281.3 L82.0,281.4 L83.3,281.5 L84.6,281.7 L86.0,281.9 L87.3,282.1 L88.6,282.1 L89.9,282.1 L91.3,281.8 L92.6,281.4 L93.9,280.6 L95.3,279.5 L96.6,278.1 L97.9,276.3 L99.2,274.2 L100.6,271.9 L101.9,269.3 L103.2,266.6 L104.6,263.8 L105.9,260.9 L107.2,258.0 L108.5,255.1 L109.9,252.3 L111.2,249.6 L112.5,247.0 L113.9,244.6 L115.2,242.3 L116.5,240.2 L117.8,238.3 L119.2,236.6 L120.5,235.2 L121.8,233.9 L123.2,232.9 L124.5,232.1 L125.8,231.6 L127.1,231.4 L128.5,231.4 L129.8,231.6 L131.1,232.1 L132.5,232.6 L133.8,233.1 L135.1,233.7 L136.4,234.2 L137.8,234.6 L139.1,234.8 L140.4,234.8 L141.8,234.5 L143.1,233.9 L144.4,232.9 L145.7,231.6 L147.1,229.9 L148.4,228.0 L149.7,226.0 L151.1,223.7 L152.4,221.4 L153.7,219.1 L155.0,216.8 L156.4,214.5 L157.7,212.4 L159.0,210.4 L160.3,208.6 L161.7,207.1 L163.0,205.7 L164.3,204.5 L165.7,203.4 L167.0,202.5 L168.3,201.7 L169.6,201.0 L171.0,200.4 L172.3,199.9 L173.6,199.4 L175.0,198.9 L176.3,198.5 L177.6,198.1 L178.9,197.7 L180.3,197.3 L181.6,196.9 L182.9,196.5 L184.3,196.1 L185.6,195.6 L186.9,195.1 L188.2,194.6 L189.6,194.0 L190.9,193.3 L192.2,192.6 L193.6,191.9 L194.9,191.2 L196.2,190.5 L197.5,189.8 L198.9,189.3 L200.2,188.9 L201.5,188.7 L202.9,188.7 L204.2,188.9 L205.5,189.3 L206.8,190.1 L208.2,191.2 L209.5,192.6 L210.8,194.3 L212.2,196.2 L213.5,198.4 L214.8,200.8 L216.1,203.3 L217.5,206.0 L218.8,208.9 L220.1,211.8 L221.5,214.9 L222.8,218.0 L224.1,221.1 L225.4,224.2 L226.8,227.3 L228.1,230.4 L229.4,233.5 L230.8,236.5 L232.1,239.4 L233.4,242.2 L234.7,244.9 L236.1,247.5 L237.4,249.9 L238.7,252.1 L240.0,254.1 L241.4,255.9 L242.7,257.4 L244.0,258.6 L245.4,259.4 L246.7,259.9 L248.0,259.9 L249.3,259.4 L250.7,258.4 L252.0,256.9 L253.3,254.7 L254.7,251.9 L256.0,248.5 L257.3,244.4 L258.6,239.8 L260.0,234.7 L261.3,229.1 L262.6,223.1 L264.0,216.8 L265.3,210.1 L266.6,203.3 L267.9,196.3 L269.3,189.2 L270.6,182.0" fill="none" stroke="#0a860a" stroke-width="1.4" stroke-linejoin="round"/>
<path d="M31.5,321.9 L32.8,321.9 L34.2,321.9 L35.5,321.9 L36.8,321.9 L38.1,321.9 L39.5,321.9 L40.8,321.9 L42.1,321.8 L43.5,321.8 L44.8,321.7 L46.1,321.7 L47.4,321.6 L48.8,321.5 L50.1,321.4 L51.4,321.3 L52.8,321.2 L54.1,321.0 L55.4,320.9 L56.7,320.6 L58.1,320.4 L59.4,320.1 L60.7,319.8 L62.1,319.5 L63.4,319.1 L64.7,318.7 L66.0,318.2 L67.4,317.8 L68.7,317.3 L70.0,316.8 L71.3,316.4 L72.7,316.0 L74.0,315.6 L75.3,315.3 L76.7,315.0 L78.0,314.8 L79.3,314.8 L80.6,314.8 L82.0,314.9 L83.3,315.1 L84.6,315.3 L86.0,315.5 L87.3,315.8 L88.6,316.1 L89.9,316.3 L91.3,316.5 L92.6,316.6 L93.9,316.6 L95.3,316.6 L96.6,316.4 L97.9,316.1 L99.2,315.7 L100.6,315.2 L101.9,314.6 L103.2,313.8 L104.6,313.0 L105.9,312.0 L107.2,310.9 L108.5,309.7 L109.9,308.4 L111.2,306.9 L112.5,305.4 L113.9,303.8 L115.2,302.1 L116.5,300.5 L117.8,298.9 L119.2,297.3 L120.5,295.9 L121.8,294.6 L123.2,293.5 L124.5,292.7 L125.8,292.1 L127.1,291.8 L128.5,291.9 L129.8,292.2 L131.1,292.6 L132.5,293.2 L133.8,293.8 L135.1,294.4 L136.4,294.8 L137.8,295.1 L139.1,295.0 L140.4,294.5 L141.8,293.7 L143.1,292.2 L144.4,290.2 L145.7,287.7 L147.1,284.8 L148.4,281.5 L149.7,277.9 L151.1,274.2 L152.4,270.3 L153.7,266.5 L155.0,262.7 L156.4,259.1 L157.7,255.7 L159.0,252.6 L160.3,250.0 L161.7,247.7 L163.0,245.8 L164.3,244.1 L165.7,242.7 L167.0,241.6 L168.3,240.6 L169.6,239.8 L171.0,239.1 L172.3,238.5 L173.6,238.0 L175.0,237.4 L176.3,236.8 L177.6,236.2 L178.9,235.5 L180.3,234.8 L181.6,234.0 L182.9,233.1 L184.3,232.2 L185.6,231.1 L186.9,229.9 L188.2,228.6 L189.6,227.1 L190.9,225.5 L192.2,223.8 L193.6,221.9 L194.9,220.1 L196.2,218.3 L197.5,216.7 L198.9,215.2 L200.2,214.1 L201.5,213.4 L202.9,213.0 L204.2,213.2 L205.5,214.0 L206.8,215.4 L208.2,217.6 L209.5,220.4 L210.8,223.8 L212.2,227.7 L213.5,232.0 L214.8,236.6 L216.1,241.5 L217.5,246.5 L218.8,251.6 L220.1,256.7 L221.5,261.8 L222.8,266.6 L224.1,271.3 L225.4,275.7 L226.8,279.8 L228.1,283.8 L229.4,287.5 L230.8,290.9 L232.1,294.2 L233.4,297.2 L234.7,300.0 L236.1,302.6 L237.4,305.0 L238.7,307.2 L240.0,309.2 L241.4,310.9 L242.7,312.3 L244.0,313.2 L245.4,313.7 L246.7,313.7 L248.0,313.0 L249.3,311.7 L250.7,309.6 L252.0,306.7 L253.3,302.9 L254.7,298.1 L256.0,292.4 L257.3,285.7 L258.6,278.2 L260.0,269.9 L261.3,260.9 L262.6,251.3 L264.0,241.3 L265.3,230.8 L266.6,219.9 L267.9,208.8 L269.3,197.6 L270.6,186.2" fill="none" stroke="#0a0af5" stroke-width="1.5" stroke-linejoin="round"/>
</g>
<line x1="31.50" y1="181.60" x2="31.50" y2="322.30" stroke="#000" stroke-width="0.8"/>
<line x1="31.10" y1="321.90" x2="271.00" y2="321.90" stroke="#000" stroke-width="0.8"/>
<line x1="27.90" y1="321.90" x2="31.50" y2="321.90" stroke="#000" stroke-width="0.7"/>
<text font-size="8.6" text-anchor="end" fill="#151515" transform="translate(25.20,324.80) scale(0.92,1)">0</text>
<line x1="29.90" y1="307.91" x2="31.50" y2="307.91" stroke="#000" stroke-width="0.7"/>
<line x1="27.90" y1="293.92" x2="31.50" y2="293.92" stroke="#000" stroke-width="0.7"/>
<text font-size="8.6" text-anchor="end" fill="#151515" transform="translate(25.20,296.82) scale(0.92,1)">20</text>
<line x1="29.90" y1="279.93" x2="31.50" y2="279.93" stroke="#000" stroke-width="0.7"/>
<line x1="27.90" y1="265.94" x2="31.50" y2="265.94" stroke="#000" stroke-width="0.7"/>
<text font-size="8.6" text-anchor="end" fill="#151515" transform="translate(25.20,268.84) scale(0.92,1)">40</text>
<line x1="29.90" y1="251.95" x2="31.50" y2="251.95" stroke="#000" stroke-width="0.7"/>
<line x1="27.90" y1="237.96" x2="31.50" y2="237.96" stroke="#000" stroke-width="0.7"/>
<text font-size="8.6" text-anchor="end" fill="#151515" transform="translate(25.20,240.86) scale(0.92,1)">60</text>
<line x1="29.90" y1="223.97" x2="31.50" y2="223.97" stroke="#000" stroke-width="0.7"/>
<line x1="27.90" y1="209.98" x2="31.50" y2="209.98" stroke="#000" stroke-width="0.7"/>
<text font-size="8.6" text-anchor="end" fill="#151515" transform="translate(25.20,212.88) scale(0.92,1)">80</text>
<line x1="29.90" y1="195.99" x2="31.50" y2="195.99" stroke="#000" stroke-width="0.7"/>
<line x1="27.90" y1="182.00" x2="31.50" y2="182.00" stroke="#000" stroke-width="0.7"/>
<text font-size="8.6" text-anchor="end" fill="#151515" transform="translate(25.20,184.90) scale(0.92,1)">100</text>
<line x1="31.50" y1="321.90" x2="31.50" y2="324.90" stroke="#000" stroke-width="0.7"/>
<text class="b" font-size="5.4" text-anchor="end" transform="translate(31.70,326.90) rotate(-47) scale(1.0,1)">LCZ1</text>
<line x1="47.44" y1="321.90" x2="47.44" y2="324.90" stroke="#000" stroke-width="0.7"/>
<text class="b" font-size="5.4" text-anchor="end" transform="translate(47.64,326.90) rotate(-47) scale(1.0,1)">LCZ2</text>
<line x1="63.38" y1="321.90" x2="63.38" y2="324.90" stroke="#000" stroke-width="0.7"/>
<text class="b" font-size="5.4" text-anchor="end" transform="translate(63.58,326.90) rotate(-47) scale(1.0,1)">LCZ3</text>
<line x1="79.32" y1="321.90" x2="79.32" y2="324.90" stroke="#000" stroke-width="0.7"/>
<text class="b" font-size="5.4" text-anchor="end" transform="translate(79.52,326.90) rotate(-47) scale(1.0,1)">LCZ4</text>
<line x1="95.26" y1="321.90" x2="95.26" y2="324.90" stroke="#000" stroke-width="0.7"/>
<text class="b" font-size="5.4" text-anchor="end" transform="translate(95.46,326.90) rotate(-47) scale(1.0,1)">LCZ5</text>
<line x1="111.20" y1="321.90" x2="111.20" y2="324.90" stroke="#000" stroke-width="0.7"/>
<text class="b" font-size="5.4" text-anchor="end" transform="translate(111.40,326.90) rotate(-47) scale(1.0,1)">LCZ6</text>
<line x1="127.14" y1="321.90" x2="127.14" y2="324.90" stroke="#000" stroke-width="0.7"/>
<text class="b" font-size="5.4" text-anchor="end" transform="translate(127.34,326.90) rotate(-47) scale(1.0,1)">LCZ7</text>
<line x1="143.08" y1="321.90" x2="143.08" y2="324.90" stroke="#000" stroke-width="0.7"/>
<text class="b" font-size="5.4" text-anchor="end" transform="translate(143.28,326.90) rotate(-47) scale(1.0,1)">LCZ8</text>
<line x1="159.02" y1="321.90" x2="159.02" y2="324.90" stroke="#000" stroke-width="0.7"/>
<text class="b" font-size="5.4" text-anchor="end" transform="translate(159.22,326.90) rotate(-47) scale(1.0,1)">LCZ9</text>
<line x1="174.96" y1="321.90" x2="174.96" y2="324.90" stroke="#000" stroke-width="0.7"/>
<text class="b" font-size="5.4" text-anchor="end" transform="translate(175.16,326.90) rotate(-47) scale(1.0,1)">LCZA</text>
<line x1="190.90" y1="321.90" x2="190.90" y2="324.90" stroke="#000" stroke-width="0.7"/>
<text class="b" font-size="5.4" text-anchor="end" transform="translate(191.10,326.90) rotate(-47) scale(1.0,1)">LCZB</text>
<line x1="206.84" y1="321.90" x2="206.84" y2="324.90" stroke="#000" stroke-width="0.7"/>
<text class="b" font-size="5.4" text-anchor="end" transform="translate(207.04,326.90) rotate(-47) scale(1.0,1)">LCZC</text>
<line x1="222.78" y1="321.90" x2="222.78" y2="324.90" stroke="#000" stroke-width="0.7"/>
<text class="b" font-size="5.4" text-anchor="end" transform="translate(222.98,326.90) rotate(-47) scale(1.0,1)">LCZD</text>
<line x1="238.72" y1="321.90" x2="238.72" y2="324.90" stroke="#000" stroke-width="0.7"/>
<text class="b" font-size="5.4" text-anchor="end" transform="translate(238.92,326.90) rotate(-47) scale(1.0,1)">LCZE</text>
<line x1="254.66" y1="321.90" x2="254.66" y2="324.90" stroke="#000" stroke-width="0.7"/>
<text class="b" font-size="5.4" text-anchor="end" transform="translate(254.86,326.90) rotate(-47) scale(1.0,1)">LCZF</text>
<line x1="270.60" y1="321.90" x2="270.60" y2="324.90" stroke="#000" stroke-width="0.7"/>
<text class="b" font-size="5.4" text-anchor="end" transform="translate(270.80,326.90) rotate(-47) scale(1.0,1)">LCZG</text>
<text class="b" font-size="8.4" text-anchor="middle" textLength="101.5" lengthAdjust="spacingAndGlyphs" transform="translate(12.90,254.35) rotate(-90)">The proportion of risk levels</text>
<text class="b" font-size="8.3" text-anchor="middle" x="156.25" y="344.90">LCZ types</text>
<text font-size="10.8" x="31.50" y="176.80"><tspan class="b">(c)</tspan><tspan dx="2.2">Autumn</tspan></text>
</g>
<g id="panel-d">
<clipPath id="clipf-d"><rect x="307.20" y="184.35" width="238.09" height="140.05"/></clipPath>
<clipPath id="clip-d"><rect x="307.20" y="184.35" width="238.69" height="140.05"/></clipPath>
<g clip-path="url(#clipf-d)">
<rect x="306.20" y="183.00" width="240.09" height="142.90" fill="#ff0000"/>
<path d="M306.2,214.5 L307.2,214.5 L308.5,212.7 L309.8,210.9 L311.2,209.2 L312.5,207.5 L313.8,205.8 L315.1,204.2 L316.5,202.7 L317.8,201.3 L319.1,200.0 L320.4,198.9 L321.8,197.9 L323.1,197.0 L324.4,196.3 L325.7,195.8 L327.0,195.4 L328.4,195.2 L329.7,195.1 L331.0,195.2 L332.3,195.4 L333.7,195.7 L335.0,196.1 L336.3,196.6 L337.6,197.3 L338.9,198.0 L340.3,198.8 L341.6,199.6 L342.9,200.5 L344.2,201.4 L345.6,202.3 L346.9,203.1 L348.2,203.8 L349.5,204.4 L350.9,204.9 L352.2,205.2 L353.5,205.4 L354.8,205.3 L356.1,204.9 L357.5,204.4 L358.8,203.7 L360.1,202.8 L361.4,201.8 L362.8,200.6 L364.1,199.4 L365.4,198.2 L366.7,196.9 L368.0,195.7 L369.4,194.5 L370.7,193.4 L372.0,192.3 L373.3,191.4 L374.7,190.6 L376.0,189.8 L377.3,189.2 L378.6,188.6 L380.0,188.1 L381.3,187.7 L382.6,187.3 L383.9,187.1 L385.2,186.9 L386.6,186.8 L387.9,186.8 L389.2,186.8 L390.5,186.8 L391.9,186.9 L393.2,187.0 L394.5,187.1 L395.8,187.3 L397.1,187.4 L398.5,187.5 L399.8,187.5 L401.1,187.5 L402.4,187.5 L403.8,187.4 L405.1,187.2 L406.4,187.0 L407.7,186.7 L409.1,186.5 L410.4,186.1 L411.7,185.8 L413.0,185.5 L414.3,185.2 L415.7,184.9 L417.0,184.6 L418.3,184.4 L419.6,184.2 L421.0,184.1 L422.3,184.0 L423.6,183.9 L424.9,183.9 L426.2,183.9 L427.6,183.9 L428.9,183.9 L430.2,183.9 L431.5,183.9 L432.9,184.0 L434.2,184.0 L435.5,184.0 L436.8,184.0 L438.2,184.0 L439.5,184.0 L440.8,184.0 L442.1,184.0 L443.4,184.0 L444.8,184.0 L446.1,184.0 L447.4,184.0 L448.7,184.0 L450.1,184.0 L451.4,184.0 L452.7,184.0 L454.0,184.0 L455.3,184.1 L456.7,184.1 L458.0,184.1 L459.3,184.1 L460.6,184.1 L462.0,184.1 L463.3,184.1 L464.6,184.0 L465.9,184.0 L467.3,183.9 L468.6,183.9 L469.9,183.8 L471.2,183.7 L472.5,183.7 L473.9,183.6 L475.2,183.6 L476.5,183.6 L477.8,183.6 L479.2,183.7 L480.5,183.8 L481.8,184.0 L483.1,184.2 L484.4,184.5 L485.8,184.9 L487.1,185.4 L488.4,185.9 L489.7,186.6 L491.1,187.3 L492.4,188.2 L493.7,189.2 L495.0,190.4 L496.4,191.7 L497.7,193.1 L499.0,194.7 L500.3,196.4 L501.6,198.1 L503.0,199.9 L504.3,201.6 L505.6,203.2 L506.9,204.7 L508.3,205.9 L509.6,206.9 L510.9,207.6 L512.2,208.0 L513.5,207.9 L514.9,207.4 L516.2,206.5 L517.5,205.3 L518.8,203.8 L520.2,202.1 L521.5,200.2 L522.8,198.2 L524.1,196.2 L525.5,194.2 L526.8,192.2 L528.1,190.5 L529.4,188.9 L530.7,187.6 L532.1,186.5 L533.4,185.6 L534.7,184.9 L536.0,184.4 L537.4,184.1 L538.7,183.9 L540.0,183.8 L541.3,183.8 L542.6,183.8 L544.0,183.9 L545.3,184.0 L546.3,184.0 L546.3,325.9 L306.2,325.9 Z" fill="#ff8214" stroke="none"/>
<path d="M306.2,288.6 L307.2,288.6 L308.5,283.4 L309.8,278.2 L311.2,273.1 L312.5,268.1 L313.8,263.2 L315.1,258.5 L316.5,254.0 L317.8,249.7 L319.1,245.7 L320.4,242.0 L321.8,238.6 L323.1,235.6 L324.4,233.0 L325.7,230.8 L327.0,229.0 L328.4,227.6 L329.7,226.6 L331.0,225.9 L332.3,225.6 L333.7,225.7 L335.0,226.1 L336.3,226.8 L337.6,227.9 L338.9,229.3 L340.3,231.1 L341.6,233.0 L342.9,235.2 L344.2,237.4 L345.6,239.7 L346.9,241.9 L348.2,244.0 L349.5,245.9 L350.9,247.5 L352.2,248.8 L353.5,249.6 L354.8,249.9 L356.1,249.6 L357.5,248.9 L358.8,247.6 L360.1,246.0 L361.4,243.9 L362.8,241.6 L364.1,239.0 L365.4,236.2 L366.7,233.3 L368.0,230.3 L369.4,227.3 L370.7,224.3 L372.0,221.4 L373.3,218.5 L374.7,215.9 L376.0,213.3 L377.3,211.0 L378.6,208.9 L380.0,207.0 L381.3,205.5 L382.6,204.2 L383.9,203.2 L385.2,202.7 L386.6,202.5 L387.9,202.7 L389.2,203.2 L390.5,204.0 L391.9,205.1 L393.2,206.2 L394.5,207.4 L395.8,208.6 L397.1,209.7 L398.5,210.6 L399.8,211.3 L401.1,211.7 L402.4,211.7 L403.8,211.3 L405.1,210.5 L406.4,209.3 L407.7,207.8 L409.1,206.2 L410.4,204.3 L411.7,202.4 L413.0,200.4 L414.3,198.3 L415.7,196.4 L417.0,194.5 L418.3,192.8 L419.6,191.3 L421.0,190.1 L422.3,189.0 L423.6,188.1 L424.9,187.4 L426.2,186.8 L427.6,186.4 L428.9,186.2 L430.2,186.0 L431.5,186.0 L432.9,186.1 L434.2,186.2 L435.5,186.5 L436.8,186.8 L438.2,187.1 L439.5,187.5 L440.8,188.0 L442.1,188.4 L443.4,188.8 L444.8,189.2 L446.1,189.5 L447.4,189.8 L448.7,190.0 L450.1,190.2 L451.4,190.2 L452.7,190.2 L454.0,190.0 L455.3,189.9 L456.7,189.6 L458.0,189.3 L459.3,189.0 L460.6,188.6 L462.0,188.2 L463.3,187.8 L464.6,187.4 L465.9,186.9 L467.3,186.5 L468.6,186.2 L469.9,185.8 L471.2,185.5 L472.5,185.3 L473.9,185.1 L475.2,185.1 L476.5,185.1 L477.8,185.2 L479.2,185.5 L480.5,185.8 L481.8,186.4 L483.1,187.1 L484.4,187.9 L485.8,188.9 L487.1,190.1 L488.4,191.5 L489.7,193.0 L491.1,194.8 L492.4,196.8 L493.7,198.9 L495.0,201.3 L496.4,203.9 L497.7,206.7 L499.0,209.7 L500.3,212.9 L501.6,216.3 L503.0,219.8 L504.3,223.3 L505.6,226.9 L506.9,230.5 L508.3,234.0 L509.6,237.5 L510.9,240.8 L512.2,244.0 L513.5,247.0 L514.9,249.7 L516.2,252.1 L517.5,254.3 L518.8,256.1 L520.2,257.5 L521.5,258.4 L522.8,258.9 L524.1,258.9 L525.5,258.4 L526.8,257.3 L528.1,255.5 L529.4,253.1 L530.7,250.0 L532.1,246.3 L533.4,242.0 L534.7,237.2 L536.0,231.9 L537.4,226.2 L538.7,220.2 L540.0,213.8 L541.3,207.3 L542.6,200.6 L544.0,193.7 L545.3,186.8 L546.3,186.8 L546.3,325.9 L306.2,325.9 Z" fill="#f4e45e" stroke="none"/>
<path d="M306.2,322.5 L307.2,322.5 L308.5,318.9 L309.8,315.3 L311.2,311.7 L312.5,308.2 L313.8,304.8 L315.1,301.4 L316.5,298.2 L317.8,295.0 L319.1,292.1 L320.4,289.3 L321.8,286.6 L323.1,284.2 L324.4,281.9 L325.7,279.9 L327.0,278.2 L328.4,276.7 L329.7,275.5 L331.0,274.6 L332.3,274.0 L333.7,273.7 L335.0,273.8 L336.3,274.3 L337.6,275.1 L338.9,276.3 L340.3,278.0 L341.6,279.9 L342.9,282.2 L344.2,284.6 L345.6,287.1 L346.9,289.6 L348.2,292.1 L349.5,294.4 L350.9,296.5 L352.2,298.2 L353.5,299.6 L354.8,300.5 L356.1,300.9 L357.5,300.8 L358.8,300.2 L360.1,299.3 L361.4,297.9 L362.8,296.2 L364.1,294.2 L365.4,292.0 L366.7,289.6 L368.0,287.1 L369.4,284.4 L370.7,281.7 L372.0,278.9 L373.3,276.2 L374.7,273.5 L376.0,271.0 L377.3,268.7 L378.6,266.7 L380.0,264.9 L381.3,263.5 L382.6,262.5 L383.9,261.9 L385.2,261.8 L386.6,262.3 L387.9,263.4 L389.2,265.0 L390.5,266.9 L391.9,269.1 L393.2,271.4 L394.5,273.7 L395.8,275.9 L397.1,277.9 L398.5,279.5 L399.8,280.6 L401.1,281.0 L402.4,280.8 L403.8,279.8 L405.1,277.9 L406.4,275.5 L407.7,272.4 L409.1,268.8 L410.4,264.9 L411.7,260.6 L413.0,256.2 L414.3,251.5 L415.7,246.9 L417.0,242.3 L418.3,237.9 L419.6,233.6 L421.0,229.6 L422.3,225.9 L423.6,222.4 L424.9,219.2 L426.2,216.2 L427.6,213.5 L428.9,211.1 L430.2,208.9 L431.5,207.0 L432.9,205.4 L434.2,204.1 L435.5,203.1 L436.8,202.4 L438.2,201.9 L439.5,201.6 L440.8,201.5 L442.1,201.5 L443.4,201.7 L444.8,201.9 L446.1,202.2 L447.4,202.4 L448.7,202.7 L450.1,202.9 L451.4,203.0 L452.7,203.1 L454.0,203.0 L455.3,202.9 L456.7,202.7 L458.0,202.5 L459.3,202.1 L460.6,201.7 L462.0,201.1 L463.3,200.5 L464.6,199.9 L465.9,199.1 L467.3,198.3 L468.6,197.4 L469.9,196.5 L471.2,195.7 L472.5,195.0 L473.9,194.5 L475.2,194.1 L476.5,193.9 L477.8,194.1 L479.2,194.5 L480.5,195.4 L481.8,196.6 L483.1,198.3 L484.4,200.4 L485.8,202.9 L487.1,205.9 L488.4,209.2 L489.7,212.9 L491.1,216.9 L492.4,221.2 L493.7,225.8 L495.0,230.8 L496.4,235.9 L497.7,241.4 L499.0,247.0 L500.3,252.8 L501.6,258.6 L503.0,264.5 L504.3,270.3 L505.6,276.0 L506.9,281.4 L508.3,286.6 L509.6,291.4 L510.9,295.7 L512.2,299.6 L513.5,302.9 L514.9,305.6 L516.2,307.7 L517.5,309.3 L518.8,310.4 L520.2,311.2 L521.5,311.6 L522.8,311.9 L524.1,311.9 L525.5,311.8 L526.8,311.8 L528.1,311.7 L529.4,311.7 L530.7,311.9 L532.1,312.3 L533.4,312.8 L534.7,313.4 L536.0,314.1 L537.4,314.9 L538.7,315.8 L540.0,316.8 L541.3,317.8 L542.6,318.9 L544.0,320.0 L545.3,321.1 L546.3,321.1 L546.3,325.9 L306.2,325.9 Z" fill="#80d89a" stroke="none"/>
<path d="M306.2,323.9 L307.2,323.9 L308.5,322.6 L309.8,321.4 L311.2,320.2 L312.5,318.9 L313.8,317.8 L315.1,316.7 L316.5,315.6 L317.8,314.6 L319.1,313.6 L320.4,312.8 L321.8,312.0 L323.1,311.3 L324.4,310.7 L325.7,310.3 L327.0,309.9 L328.4,309.7 L329.7,309.5 L331.0,309.5 L332.3,309.5 L333.7,309.7 L335.0,310.0 L336.3,310.4 L337.6,310.9 L338.9,311.4 L340.3,312.1 L341.6,312.9 L342.9,313.8 L344.2,314.7 L345.6,315.6 L346.9,316.5 L348.2,317.4 L349.5,318.3 L350.9,319.0 L352.2,319.8 L353.5,320.4 L354.8,320.8 L356.1,321.2 L357.5,321.3 L358.8,321.4 L360.1,321.4 L361.4,321.3 L362.8,321.0 L364.1,320.8 L365.4,320.4 L366.7,320.1 L368.0,319.7 L369.4,319.3 L370.7,318.9 L372.0,318.5 L373.3,318.1 L374.7,317.8 L376.0,317.4 L377.3,317.2 L378.6,316.9 L380.0,316.7 L381.3,316.6 L382.6,316.5 L383.9,316.5 L385.2,316.5 L386.6,316.6 L387.9,316.8 L389.2,317.1 L390.5,317.4 L391.9,317.7 L393.2,318.1 L394.5,318.4 L395.8,318.8 L397.1,319.1 L398.5,319.5 L399.8,319.7 L401.1,320.0 L402.4,320.1 L403.8,320.2 L405.1,320.2 L406.4,320.0 L407.7,319.7 L409.1,319.3 L410.4,318.7 L411.7,317.9 L413.0,317.0 L414.3,315.8 L415.7,314.4 L417.0,312.7 L418.3,310.7 L419.6,308.5 L421.0,306.1 L422.3,303.5 L423.6,300.8 L424.9,298.0 L426.2,295.2 L427.6,292.4 L428.9,289.8 L430.2,287.3 L431.5,285.0 L432.9,282.9 L434.2,281.2 L435.5,279.9 L436.8,278.8 L438.2,278.0 L439.5,277.4 L440.8,277.0 L442.1,276.6 L443.4,276.3 L444.8,275.9 L446.1,275.5 L447.4,274.9 L448.7,274.0 L450.1,273.0 L451.4,271.6 L452.7,269.9 L454.0,268.0 L455.3,265.8 L456.7,263.3 L458.0,260.7 L459.3,257.9 L460.6,254.9 L462.0,251.8 L463.3,248.6 L464.6,245.3 L465.9,241.9 L467.3,238.5 L468.6,235.2 L469.9,231.9 L471.2,229.0 L472.5,226.3 L473.9,224.0 L475.2,222.3 L476.5,221.1 L477.8,220.6 L479.2,220.9 L480.5,222.0 L481.8,224.2 L483.1,227.3 L484.4,231.3 L485.8,236.1 L487.1,241.5 L488.4,247.4 L489.7,253.7 L491.1,260.2 L492.4,266.8 L493.7,273.3 L495.0,279.7 L496.4,285.7 L497.7,291.3 L499.0,296.3 L500.3,300.8 L501.6,304.7 L503.0,308.2 L504.3,311.2 L505.6,313.8 L506.9,316.0 L508.3,317.8 L509.6,319.4 L510.9,320.6 L512.2,321.7 L513.5,322.5 L514.9,323.2 L516.2,323.7 L517.5,324.0 L518.8,324.3 L520.2,324.4 L521.5,324.5 L522.8,324.5 L524.1,324.4 L525.5,324.3 L526.8,324.2 L528.1,324.0 L529.4,323.9 L530.7,323.8 L532.1,323.7 L533.4,323.7 L534.7,323.7 L536.0,323.6 L537.4,323.7 L538.7,323.7 L540.0,323.7 L541.3,323.7 L542.6,323.8 L544.0,323.8 L545.3,323.9 L546.3,323.9 L546.3,325.9 L306.2,325.9 Z" fill="#00bcff" stroke="none"/>
</g>
<g clip-path="url(#clip-d)">
<line x1="307.20" y1="184.00" x2="307.20" y2="323.90" stroke="#70704c" stroke-opacity="0.5" stroke-width="0.55" stroke-dasharray="0.9,1.0"/>
<line x1="323.07" y1="184.00" x2="323.07" y2="323.90" stroke="#70704c" stroke-opacity="0.5" stroke-width="0.55" stroke-dasharray="0.9,1.0"/>
<line x1="338.95" y1="184.00" x2="338.95" y2="323.90" stroke="#70704c" stroke-opacity="0.5" stroke-width="0.55" stroke-dasharray="0.9,1.0"/>
<line x1="354.82" y1="184.00" x2="354.82" y2="323.90" stroke="#70704c" stroke-opacity="0.5" stroke-width="0.55" stroke-dasharray="0.9,1.0"/>
<line x1="370.69" y1="184.00" x2="370.69" y2="323.90" stroke="#70704c" stroke-opacity="0.5" stroke-width="0.55" stroke-dasharray="0.9,1.0"/>
<line x1="386.56" y1="184.00" x2="386.56" y2="323.90" stroke="#70704c" stroke-opacity="0.5" stroke-width="0.55" stroke-dasharray="0.9,1.0"/>
<line x1="402.44" y1="184.00" x2="402.44" y2="323.90" stroke="#70704c" stroke-opacity="0.5" stroke-width="0.55" stroke-dasharray="0.9,1.0"/>
<line x1="418.31" y1="184.00" x2="418.31" y2="323.90" stroke="#70704c" stroke-opacity="0.5" stroke-width="0.55" stroke-dasharray="0.9,1.0"/>
<line x1="434.18" y1="184.00" x2="434.18" y2="323.90" stroke="#70704c" stroke-opacity="0.5" stroke-width="0.55" stroke-dasharray="0.9,1.0"/>
<line x1="450.06" y1="184.00" x2="450.06" y2="323.90" stroke="#70704c" stroke-opacity="0.5" stroke-width="0.55" stroke-dasharray="0.9,1.0"/>
<line x1="465.93" y1="184.00" x2="465.93" y2="323.90" stroke="#70704c" stroke-opacity="0.5" stroke-width="0.55" stroke-dasharray="0.9,1.0"/>
<line x1="481.80" y1="184.00" x2="481.80" y2="323.90" stroke="#70704c" stroke-opacity="0.5" stroke-width="0.55" stroke-dasharray="0.9,1.0"/>
<line x1="497.68" y1="184.00" x2="497.68" y2="323.90" stroke="#70704c" stroke-opacity="0.5" stroke-width="0.55" stroke-dasharray="0.9,1.0"/>
<line x1="513.55" y1="184.00" x2="513.55" y2="323.90" stroke="#70704c" stroke-opacity="0.5" stroke-width="0.55" stroke-dasharray="0.9,1.0"/>
<line x1="529.42" y1="184.00" x2="529.42" y2="323.90" stroke="#70704c" stroke-opacity="0.5" stroke-width="0.55" stroke-dasharray="0.9,1.0"/>
<line x1="545.29" y1="184.00" x2="545.29" y2="323.90" stroke="#70704c" stroke-opacity="0.5" stroke-width="0.55" stroke-dasharray="0.9,1.0"/>
<path d="M307.2,214.5 L308.5,212.7 L309.8,210.9 L311.2,209.2 L312.5,207.5 L313.8,205.8 L315.1,204.2 L316.5,202.7 L317.8,201.3 L319.1,200.0 L320.4,198.9 L321.8,197.9 L323.1,197.0 L324.4,196.3 L325.7,195.8 L327.0,195.4 L328.4,195.2 L329.7,195.1 L331.0,195.2 L332.3,195.4 L333.7,195.7 L335.0,196.1 L336.3,196.6 L337.6,197.3 L338.9,198.0 L340.3,198.8 L341.6,199.6 L342.9,200.5 L344.2,201.4 L345.6,202.3 L346.9,203.1 L348.2,203.8 L349.5,204.4 L350.9,204.9 L352.2,205.2 L353.5,205.4 L354.8,205.3 L356.1,204.9 L357.5,204.4 L358.8,203.7 L360.1,202.8 L361.4,201.8 L362.8,200.6 L364.1,199.4 L365.4,198.2 L366.7,196.9 L368.0,195.7 L369.4,194.5 L370.7,193.4 L372.0,192.3 L373.3,191.4 L374.7,190.6 L376.0,189.8 L377.3,189.2 L378.6,188.6 L380.0,188.1 L381.3,187.7 L382.6,187.3 L383.9,187.1 L385.2,186.9 L386.6,186.8 L387.9,186.8 L389.2,186.8 L390.5,186.8 L391.9,186.9 L393.2,187.0 L394.5,187.1 L395.8,187.3 L397.1,187.4 L398.5,187.5 L399.8,187.5 L401.1,187.5 L402.4,187.5 L403.8,187.4 L405.1,187.2 L406.4,187.0 L407.7,186.7 L409.1,186.5 L410.4,186.1 L411.7,185.8 L413.0,185.5 L414.3,185.2 L415.7,184.9 L417.0,184.6 L418.3,184.4 L419.6,184.2 L421.0,184.1 L422.3,184.0 L423.6,183.9 L424.9,183.9 L426.2,183.9 L427.6,183.9 L428.9,183.9 L430.2,183.9 L431.5,183.9 L432.9,184.0 L434.2,184.0 L435.5,184.0 L436.8,184.0 L438.2,184.0 L439.5,184.0 L440.8,184.0 L442.1,184.0 L443.4,184.0 L444.8,184.0 L446.1,184.0 L447.4,184.0 L448.7,184.0 L450.1,184.0 L451.4,184.0 L452.7,184.0 L454.0,184.0 L455.3,184.1 L456.7,184.1 L458.0,184.1 L459.3,184.1 L460.6,184.1 L462.0,184.1 L463.3,184.1 L464.6,184.0 L465.9,184.0 L467.3,183.9 L468.6,183.9 L469.9,183.8 L471.2,183.7 L472.5,183.7 L473.9,183.6 L475.2,183.6 L476.5,183.6 L477.8,183.6 L479.2,183.7 L480.5,183.8 L481.8,184.0 L483.1,184.2 L484.4,184.5 L485.8,184.9 L487.1,185.4 L488.4,185.9 L489.7,186.6 L491.1,187.3 L492.4,188.2 L493.7,189.2 L495.0,190.4 L496.4,191.7 L497.7,193.1 L499.0,194.7 L500.3,196.4 L501.6,198.1 L503.0,199.9 L504.3,201.6 L505.6,203.2 L506.9,204.7 L508.3,205.9 L509.6,206.9 L510.9,207.6 L512.2,208.0 L513.5,207.9 L514.9,207.4 L516.2,206.5 L517.5,205.3 L518.8,203.8 L520.2,202.1 L521.5,200.2 L522.8,198.2 L524.1,196.2 L525.5,194.2 L526.8,192.2 L528.1,190.5 L529.4,188.9 L530.7,187.6 L532.1,186.5 L533.4,185.6 L534.7,184.9 L536.0,184.4 L537.4,184.1 L538.7,183.9 L540.0,183.8 L541.3,183.8 L542.6,183.8 L544.0,183.9 L545.3,184.0" fill="none" stroke="#94801a" stroke-width="1.05" stroke-linejoin="round"/>
<path d="M307.2,288.6 L308.5,283.4 L309.8,278.2 L311.2,273.1 L312.5,268.1 L313.8,263.2 L315.1,258.5 L316.5,254.0 L317.8,249.7 L319.1,245.7 L320.4,242.0 L321.8,238.6 L323.1,235.6 L324.4,233.0 L325.7,230.8 L327.0,229.0 L328.4,227.6 L329.7,226.6 L331.0,225.9 L332.3,225.6 L333.7,225.7 L335.0,226.1 L336.3,226.8 L337.6,227.9 L338.9,229.3 L340.3,231.1 L341.6,233.0 L342.9,235.2 L344.2,237.4 L345.6,239.7 L346.9,241.9 L348.2,244.0 L349.5,245.9 L350.9,247.5 L352.2,248.8 L353.5,249.6 L354.8,249.9 L356.1,249.6 L357.5,248.9 L358.8,247.6 L360.1,246.0 L361.4,243.9 L362.8,241.6 L364.1,239.0 L365.4,236.2 L366.7,233.3 L368.0,230.3 L369.4,227.3 L370.7,224.3 L372.0,221.4 L373.3,218.5 L374.7,215.9 L376.0,213.3 L377.3,211.0 L378.6,208.9 L380.0,207.0 L381.3,205.5 L382.6,204.2 L383.9,203.2 L385.2,202.7 L386.6,202.5 L387.9,202.7 L389.2,203.2 L390.5,204.0 L391.9,205.1 L393.2,206.2 L394.5,207.4 L395.8,208.6 L397.1,209.7 L398.5,210.6 L399.8,211.3 L401.1,211.7 L402.4,211.7 L403.8,211.3 L405.1,210.5 L406.4,209.3 L407.7,207.8 L409.1,206.2 L410.4,204.3 L411.7,202.4 L413.0,200.4 L414.3,198.3 L415.7,196.4 L417.0,194.5 L418.3,192.8 L419.6,191.3 L421.0,190.1 L422.3,189.0 L423.6,188.1 L424.9,187.4 L426.2,186.8 L427.6,186.4 L428.9,186.2 L430.2,186.0 L431.5,186.0 L432.9,186.1 L434.2,186.2 L435.5,186.5 L436.8,186.8 L438.2,187.1 L439.5,187.5 L440.8,188.0 L442.1,188.4 L443.4,188.8 L444.8,189.2 L446.1,189.5 L447.4,189.8 L448.7,190.0 L450.1,190.2 L451.4,190.2 L452.7,190.2 L454.0,190.0 L455.3,189.9 L456.7,189.6 L458.0,189.3 L459.3,189.0 L460.6,188.6 L462.0,188.2 L463.3,187.8 L464.6,187.4 L465.9,186.9 L467.3,186.5 L468.6,186.2 L469.9,185.8 L471.2,185.5 L472.5,185.3 L473.9,185.1 L475.2,185.1 L476.5,185.1 L477.8,185.2 L479.2,185.5 L480.5,185.8 L481.8,186.4 L483.1,187.1 L484.4,187.9 L485.8,188.9 L487.1,190.1 L488.4,191.5 L489.7,193.0 L491.1,194.8 L492.4,196.8 L493.7,198.9 L495.0,201.3 L496.4,203.9 L497.7,206.7 L499.0,209.7 L500.3,212.9 L501.6,216.3 L503.0,219.8 L504.3,223.3 L505.6,226.9 L506.9,230.5 L508.3,234.0 L509.6,237.5 L510.9,240.8 L512.2,244.0 L513.5,247.0 L514.9,249.7 L516.2,252.1 L517.5,254.3 L518.8,256.1 L520.2,257.5 L521.5,258.4 L522.8,258.9 L524.1,258.9 L525.5,258.4 L526.8,257.3 L528.1,255.5 L529.4,253.1 L530.7,250.0 L532.1,246.3 L533.4,242.0 L534.7,237.2 L536.0,231.9 L537.4,226.2 L538.7,220.2 L540.0,213.8 L541.3,207.3 L542.6,200.6 L544.0,193.7 L545.3,186.8" fill="none" stroke="#84740e" stroke-width="1.25" stroke-linejoin="round"/>
<path d="M307.2,322.5 L308.5,318.9 L309.8,315.3 L311.2,311.7 L312.5,308.2 L313.8,304.8 L315.1,301.4 L316.5,298.2 L317.8,295.0 L319.1,292.1 L320.4,289.3 L321.8,286.6 L323.1,284.2 L324.4,281.9 L325.7,279.9 L327.0,278.2 L328.4,276.7 L329.7,275.5 L331.0,274.6 L332.3,274.0 L333.7,273.7 L335.0,273.8 L336.3,274.3 L337.6,275.1 L338.9,276.3 L340.3,278.0 L341.6,279.9 L342.9,282.2 L344.2,284.6 L345.6,287.1 L346.9,289.6 L348.2,292.1 L349.5,294.4 L350.9,296.5 L352.2,298.2 L353.5,299.6 L354.8,300.5 L356.1,300.9 L357.5,300.8 L358.8,300.2 L360.1,299.3 L361.4,297.9 L362.8,296.2 L364.1,294.2 L365.4,292.0 L366.7,289.6 L368.0,287.1 L369.4,284.4 L370.7,281.7 L372.0,278.9 L373.3,276.2 L374.7,273.5 L376.0,271.0 L377.3,268.7 L378.6,266.7 L380.0,264.9 L381.3,263.5 L382.6,262.5 L383.9,261.9 L385.2,261.8 L386.6,262.3 L387.9,263.4 L389.2,265.0 L390.5,266.9 L391.9,269.1 L393.2,271.4 L394.5,273.7 L395.8,275.9 L397.1,277.9 L398.5,279.5 L399.8,280.6 L401.1,281.0 L402.4,280.8 L403.8,279.8 L405.1,277.9 L406.4,275.5 L407.7,272.4 L409.1,268.8 L410.4,264.9 L411.7,260.6 L413.0,256.2 L414.3,251.5 L415.7,246.9 L417.0,242.3 L418.3,237.9 L419.6,233.6 L421.0,229.6 L422.3,225.9 L423.6,222.4 L424.9,219.2 L426.2,216.2 L427.6,213.5 L428.9,211.1 L430.2,208.9 L431.5,207.0 L432.9,205.4 L434.2,204.1 L435.5,203.1 L436.8,202.4 L438.2,201.9 L439.5,201.6 L440.8,201.5 L442.1,201.5 L443.4,201.7 L444.8,201.9 L446.1,202.2 L447.4,202.4 L448.7,202.7 L450.1,202.9 L451.4,203.0 L452.7,203.1 L454.0,203.0 L455.3,202.9 L456.7,202.7 L458.0,202.5 L459.3,202.1 L460.6,201.7 L462.0,201.1 L463.3,200.5 L464.6,199.9 L465.9,199.1 L467.3,198.3 L468.6,197.4 L469.9,196.5 L471.2,195.7 L472.5,195.0 L473.9,194.5 L475.2,194.1 L476.5,193.9 L477.8,194.1 L479.2,194.5 L480.5,195.4 L481.8,196.6 L483.1,198.3 L484.4,200.4 L485.8,202.9 L487.1,205.9 L488.4,209.2 L489.7,212.9 L491.1,216.9 L492.4,221.2 L493.7,225.8 L495.0,230.8 L496.4,235.9 L497.7,241.4 L499.0,247.0 L500.3,252.8 L501.6,258.6 L503.0,264.5 L504.3,270.3 L505.6,276.0 L506.9,281.4 L508.3,286.6 L509.6,291.4 L510.9,295.7 L512.2,299.6 L513.5,302.9 L514.9,305.6 L516.2,307.7 L517.5,309.3 L518.8,310.4 L520.2,311.2 L521.5,311.6 L522.8,311.9 L524.1,311.9 L525.5,311.8 L526.8,311.8 L528.1,311.7 L529.4,311.7 L530.7,311.9 L532.1,312.3 L533.4,312.8 L534.7,313.4 L536.0,314.1 L537.4,314.9 L538.7,315.8 L540.0,316.8 L541.3,317.8 L542.6,318.9 L544.0,320.0 L545.3,321.1" fill="none" stroke="#0a860a" stroke-width="1.4" stroke-linejoin="round"/>
<path d="M307.2,323.9 L308.5,322.6 L309.8,321.4 L311.2,320.2 L312.5,318.9 L313.8,317.8 L315.1,316.7 L316.5,315.6 L317.8,314.6 L319.1,313.6 L320.4,312.8 L321.8,312.0 L323.1,311.3 L324.4,310.7 L325.7,310.3 L327.0,309.9 L328.4,309.7 L329.7,309.5 L331.0,309.5 L332.3,309.5 L333.7,309.7 L335.0,310.0 L336.3,310.4 L337.6,310.9 L338.9,311.4 L340.3,312.1 L341.6,312.9 L342.9,313.8 L344.2,314.7 L345.6,315.6 L346.9,316.5 L348.2,317.4 L349.5,318.3 L350.9,319.0 L352.2,319.8 L353.5,320.4 L354.8,320.8 L356.1,321.2 L357.5,321.3 L358.8,321.4 L360.1,321.4 L361.4,321.3 L362.8,321.0 L364.1,320.8 L365.4,320.4 L366.7,320.1 L368.0,319.7 L369.4,319.3 L370.7,318.9 L372.0,318.5 L373.3,318.1 L374.7,317.8 L376.0,317.4 L377.3,317.2 L378.6,316.9 L380.0,316.7 L381.3,316.6 L382.6,316.5 L383.9,316.5 L385.2,316.5 L386.6,316.6 L387.9,316.8 L389.2,317.1 L390.5,317.4 L391.9,317.7 L393.2,318.1 L394.5,318.4 L395.8,318.8 L397.1,319.1 L398.5,319.5 L399.8,319.7 L401.1,320.0 L402.4,320.1 L403.8,320.2 L405.1,320.2 L406.4,320.0 L407.7,319.7 L409.1,319.3 L410.4,318.7 L411.7,317.9 L413.0,317.0 L414.3,315.8 L415.7,314.4 L417.0,312.7 L418.3,310.7 L419.6,308.5 L421.0,306.1 L422.3,303.5 L423.6,300.8 L424.9,298.0 L426.2,295.2 L427.6,292.4 L428.9,289.8 L430.2,287.3 L431.5,285.0 L432.9,282.9 L434.2,281.2 L435.5,279.9 L436.8,278.8 L438.2,278.0 L439.5,277.4 L440.8,277.0 L442.1,276.6 L443.4,276.3 L444.8,275.9 L446.1,275.5 L447.4,274.9 L448.7,274.0 L450.1,273.0 L451.4,271.6 L452.7,269.9 L454.0,268.0 L455.3,265.8 L456.7,263.3 L458.0,260.7 L459.3,257.9 L460.6,254.9 L462.0,251.8 L463.3,248.6 L464.6,245.3 L465.9,241.9 L467.3,238.5 L468.6,235.2 L469.9,231.9 L471.2,229.0 L472.5,226.3 L473.9,224.0 L475.2,222.3 L476.5,221.1 L477.8,220.6 L479.2,220.9 L480.5,222.0 L481.8,224.2 L483.1,227.3 L484.4,231.3 L485.8,236.1 L487.1,241.5 L488.4,247.4 L489.7,253.7 L491.1,260.2 L492.4,266.8 L493.7,273.3 L495.0,279.7 L496.4,285.7 L497.7,291.3 L499.0,296.3 L500.3,300.8 L501.6,304.7 L503.0,308.2 L504.3,311.2 L505.6,313.8 L506.9,316.0 L508.3,317.8 L509.6,319.4 L510.9,320.6 L512.2,321.7 L513.5,322.5 L514.9,323.2 L516.2,323.7 L517.5,324.0 L518.8,324.3 L520.2,324.4 L521.5,324.5 L522.8,324.5 L524.1,324.4 L525.5,324.3 L526.8,324.2 L528.1,324.0 L529.4,323.9 L530.7,323.8 L532.1,323.7 L533.4,323.7 L534.7,323.7 L536.0,323.6 L537.4,323.7 L538.7,323.7 L540.0,323.7 L541.3,323.7 L542.6,323.8 L544.0,323.8 L545.3,323.9" fill="none" stroke="#0a0af5" stroke-width="1.5" stroke-linejoin="round"/>
</g>
<line x1="307.20" y1="183.60" x2="307.20" y2="324.30" stroke="#000" stroke-width="0.8"/>
<line x1="306.80" y1="323.90" x2="545.69" y2="323.90" stroke="#000" stroke-width="0.8"/>
<line x1="303.60" y1="323.90" x2="307.20" y2="323.90" stroke="#000" stroke-width="0.7"/>
<text font-size="8.6" text-anchor="end" fill="#151515" transform="translate(300.90,326.80) scale(0.92,1)">0</text>
<line x1="305.60" y1="309.91" x2="307.20" y2="309.91" stroke="#000" stroke-width="0.7"/>
<line x1="303.60" y1="295.92" x2="307.20" y2="295.92" stroke="#000" stroke-width="0.7"/>
<text font-size="8.6" text-anchor="end" fill="#151515" transform="translate(300.90,298.82) scale(0.92,1)">20</text>
<line x1="305.60" y1="281.93" x2="307.20" y2="281.93" stroke="#000" stroke-width="0.7"/>
<line x1="303.60" y1="267.94" x2="307.20" y2="267.94" stroke="#000" stroke-width="0.7"/>
<text font-size="8.6" text-anchor="end" fill="#151515" transform="translate(300.90,270.84) scale(0.92,1)">40</text>
<line x1="305.60" y1="253.95" x2="307.20" y2="253.95" stroke="#000" stroke-width="0.7"/>
<line x1="303.60" y1="239.96" x2="307.20" y2="239.96" stroke="#000" stroke-width="0.7"/>
<text font-size="8.6" text-anchor="end" fill="#151515" transform="translate(300.90,242.86) scale(0.92,1)">60</text>
<line x1="305.60" y1="225.97" x2="307.20" y2="225.97" stroke="#000" stroke-width="0.7"/>
<line x1="303.60" y1="211.98" x2="307.20" y2="211.98" stroke="#000" stroke-width="0.7"/>
<text font-size="8.6" text-anchor="end" fill="#151515" transform="translate(300.90,214.88) scale(0.92,1)">80</text>
<line x1="305.60" y1="197.99" x2="307.20" y2="197.99" stroke="#000" stroke-width="0.7"/>
<line x1="303.60" y1="184.00" x2="307.20" y2="184.00" stroke="#000" stroke-width="0.7"/>
<text font-size="8.6" text-anchor="end" fill="#151515" transform="translate(300.90,186.90) scale(0.92,1)">100</text>
<line x1="307.20" y1="323.90" x2="307.20" y2="326.90" stroke="#000" stroke-width="0.7"/>
<text class="b" font-size="5.4" text-anchor="end" transform="translate(307.40,328.90) rotate(-47) scale(1.0,1)">LCZ1</text>
<line x1="323.07" y1="323.90" x2="323.07" y2="326.90" stroke="#000" stroke-width="0.7"/>
<text class="b" font-size="5.4" text-anchor="end" transform="translate(323.27,328.90) rotate(-47) scale(1.0,1)">LCZ2</text>
<line x1="338.95" y1="323.90" x2="338.95" y2="326.90" stroke="#000" stroke-width="0.7"/>
<text class="b" font-size="5.4" text-anchor="end" transform="translate(339.15,328.90) rotate(-47) scale(1.0,1)">LCZ3</text>
<line x1="354.82" y1="323.90" x2="354.82" y2="326.90" stroke="#000" stroke-width="0.7"/>
<text class="b" font-size="5.4" text-anchor="end" transform="translate(355.02,328.90) rotate(-47) scale(1.0,1)">LCZ4</text>
<line x1="370.69" y1="323.90" x2="370.69" y2="326.90" stroke="#000" stroke-width="0.7"/>
<text class="b" font-size="5.4" text-anchor="end" transform="translate(370.89,328.90) rotate(-47) scale(1.0,1)">LCZ5</text>
<line x1="386.56" y1="323.90" x2="386.56" y2="326.90" stroke="#000" stroke-width="0.7"/>
<text class="b" font-size="5.4" text-anchor="end" transform="translate(386.76,328.90) rotate(-47) scale(1.0,1)">LCZ6</text>
<line x1="402.44" y1="323.90" x2="402.44" y2="326.90" stroke="#000" stroke-width="0.7"/>
<text class="b" font-size="5.4" text-anchor="end" transform="translate(402.64,328.90) rotate(-47) scale(1.0,1)">LCZ7</text>
<line x1="418.31" y1="323.90" x2="418.31" y2="326.90" stroke="#000" stroke-width="0.7"/>
<text class="b" font-size="5.4" text-anchor="end" transform="translate(418.51,328.90) rotate(-47) scale(1.0,1)">LCZ8</text>
<line x1="434.18" y1="323.90" x2="434.18" y2="326.90" stroke="#000" stroke-width="0.7"/>
<text class="b" font-size="5.4" text-anchor="end" transform="translate(434.38,328.90) rotate(-47) scale(1.0,1)">LCZ9</text>
<line x1="450.06" y1="323.90" x2="450.06" y2="326.90" stroke="#000" stroke-width="0.7"/>
<text class="b" font-size="5.4" text-anchor="end" transform="translate(450.26,328.90) rotate(-47) scale(1.0,1)">LCZA</text>
<line x1="465.93" y1="323.90" x2="465.93" y2="326.90" stroke="#000" stroke-width="0.7"/>
<text class="b" font-size="5.4" text-anchor="end" transform="translate(466.13,328.90) rotate(-47) scale(1.0,1)">LCZB</text>
<line x1="481.80" y1="323.90" x2="481.80" y2="326.90" stroke="#000" stroke-width="0.7"/>
<text class="b" font-size="5.4" text-anchor="end" transform="translate(482.00,328.90) rotate(-47) scale(1.0,1)">LCZC</text>
<line x1="497.68" y1="323.90" x2="497.68" y2="326.90" stroke="#000" stroke-width="0.7"/>
<text class="b" font-size="5.4" text-anchor="end" transform="translate(497.88,328.90) rotate(-47) scale(1.0,1)">LCZD</text>
<line x1="513.55" y1="323.90" x2="513.55" y2="326.90" stroke="#000" stroke-width="0.7"/>
<text class="b" font-size="5.4" text-anchor="end" transform="translate(513.75,328.90) rotate(-47) scale(1.0,1)">LCZE</text>
<line x1="529.42" y1="323.90" x2="529.42" y2="326.90" stroke="#000" stroke-width="0.7"/>
<text class="b" font-size="5.4" text-anchor="end" transform="translate(529.62,328.90) rotate(-47) scale(1.0,1)">LCZF</text>
<line x1="545.29" y1="323.90" x2="545.29" y2="326.90" stroke="#000" stroke-width="0.7"/>
<text class="b" font-size="5.4" text-anchor="end" transform="translate(545.50,328.90) rotate(-47) scale(1.0,1)">LCZG</text>
<text class="b" font-size="8.4" text-anchor="middle" textLength="101.5" lengthAdjust="spacingAndGlyphs" transform="translate(287.90,256.35) rotate(-90)">The proportion of risk levels</text>
<text class="b" font-size="8.3" text-anchor="middle" x="431.45" y="345.80">LCZ types</text>
<text font-size="10.8" x="302.90" y="180.80"><tspan class="b">(d)</tspan><tspan dx="1.2">Winter</tspan></text>
</g>
<g id="legend">
<text class="b" font-size="11.2" x="206.2" y="347.0" textLength="135.4" lengthAdjust="spacingAndGlyphs">Heat hazard health risk level</text>
<rect x="174.30" y="350.8" width="22.5" height="10.7" fill="#0590d2" stroke="#9a9a9a" stroke-width="0.5"/>
<text class="b" font-size="7.9" x="200.70" y="357.7">very low</text>
<rect x="235.30" y="350.8" width="22.5" height="10.7" fill="#8cc896" stroke="#9a9a9a" stroke-width="0.5"/>
<text class="b" font-size="7.9" x="261.40" y="357.7">low</text>
<rect x="277.00" y="350.8" width="22.5" height="10.7" fill="#fbf85a" stroke="#9a9a9a" stroke-width="0.5"/>
<text class="b" font-size="7.9" x="303.70" y="357.7">medium</text>
<rect x="337.00" y="350.8" width="22.5" height="10.7" fill="#ff8c1e" stroke="#9a9a9a" stroke-width="0.5"/>
<text class="b" font-size="7.9" x="363.10" y="357.7">high</text>
<rect x="382.10" y="350.8" width="22.5" height="10.7" fill="#fe0a0a" stroke="#9a9a9a" stroke-width="0.5"/>
<text class="b" font-size="7.9" x="407.40" y="357.7">very high</text>
</g>
</svg></body></html>
